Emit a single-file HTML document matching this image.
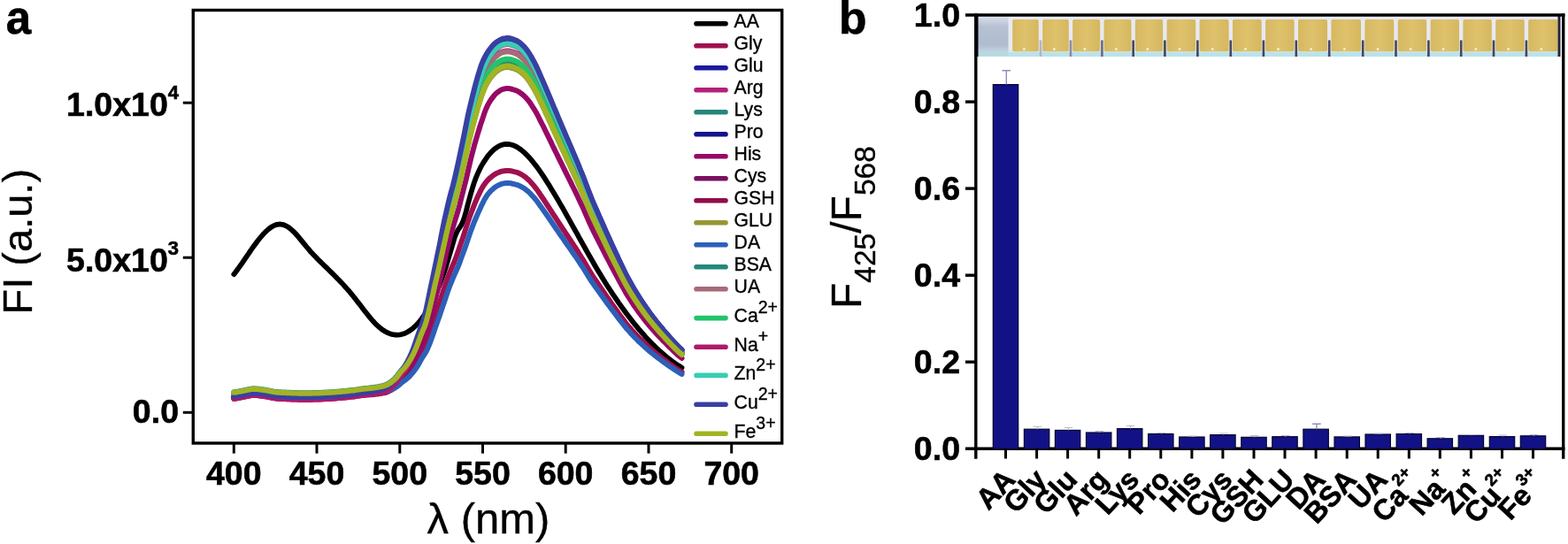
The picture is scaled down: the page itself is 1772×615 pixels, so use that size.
<!DOCTYPE html><html><head><meta charset="utf-8"><title>Figure</title><style>
html,body{margin:0;padding:0;background:#fff;}body{width:1772px;height:615px;overflow:hidden;}
svg{display:block;filter:blur(0.35px);}
.t{font-family:"Liberation Sans",Arial,sans-serif;stroke:#000;stroke-width:0.35px;}
.b{font-family:"Liberation Sans",Arial,sans-serif;font-weight:bold;stroke:#000;stroke-width:0.6px;}
</style></head><body>
<svg width="1772" height="615" viewBox="0 0 1772 615">
<rect width="1772" height="615" fill="#fff"/>
<text class="b" x="6.8" y="37.8" font-size="51">a</text>
<g fill="none" stroke-width="6" stroke-linejoin="round" stroke-linecap="round">
<path d="M264.3 310.1 L266.2 307.7 L268.0 305.2 L269.9 302.6 L271.8 300.0 L273.7 297.3 L275.5 294.6 L277.4 291.8 L279.3 289.1 L281.2 286.4 L283.0 283.6 L284.9 280.9 L286.8 278.3 L288.7 275.7 L290.5 273.2 L292.4 270.8 L294.3 268.5 L296.2 266.3 L298.0 264.2 L299.9 262.3 L301.8 260.5 L303.7 258.9 L305.5 257.5 L307.4 256.2 L309.3 255.2 L311.2 254.4 L313.0 253.9 L314.9 253.6 L316.8 253.5 L318.7 253.8 L320.5 254.2 L322.4 255.0 L324.3 255.9 L326.2 257.1 L328.0 258.5 L329.9 260.1 L331.8 261.9 L333.7 263.8 L335.5 265.8 L337.4 268.0 L339.3 270.3 L341.2 272.6 L343.0 274.9 L344.9 277.2 L346.8 279.5 L348.7 281.7 L350.5 283.9 L352.4 285.9 L354.3 288.0 L356.2 289.9 L358.0 291.9 L359.9 293.8 L361.8 295.6 L363.7 297.5 L365.5 299.3 L367.4 301.1 L369.3 302.9 L371.2 304.8 L373.0 306.6 L374.9 308.4 L376.8 310.3 L378.7 312.2 L380.5 314.1 L382.4 316.0 L384.3 317.9 L386.2 319.9 L388.0 321.9 L389.9 324.0 L391.8 326.1 L393.7 328.2 L395.5 330.4 L397.4 332.7 L399.3 335.0 L401.2 337.3 L403.0 339.7 L404.9 342.1 L406.8 344.6 L408.7 347.0 L410.5 349.5 L412.4 351.9 L414.3 354.3 L416.2 356.6 L418.0 358.9 L419.9 361.1 L421.8 363.2 L423.6 365.2 L425.5 367.1 L427.4 368.8 L429.3 370.5 L431.1 372.0 L433.0 373.3 L434.9 374.5 L436.8 375.6 L438.6 376.4 L440.5 377.2 L442.4 377.8 L444.3 378.2 L446.1 378.5 L448.0 378.6 L449.9 378.6 L451.8 378.4 L453.6 378.1 L455.5 377.5 L457.4 376.9 L459.3 376.0 L461.1 375.0 L463.0 373.8 L464.9 372.5 L466.8 371.0 L468.6 369.3 L470.5 367.5 L472.4 365.5 L474.3 363.3 L476.1 360.9 L478.0 358.3 L479.9 355.6 L481.8 352.7 L483.6 349.6 L485.5 346.3 L487.4 342.8 L489.3 339.1 L491.1 335.1 L493.0 330.9 L494.9 326.5 L496.8 321.8 L498.6 316.9 L500.5 311.7 L502.4 306.2 L504.3 300.5 L506.1 294.5 L508.0 288.2 L509.9 281.7 L511.8 275.2 L513.6 269.0 L515.5 263.9 L517.4 260.2 L519.3 257.5 L521.1 254.7 L523.0 250.9 L524.9 245.4 L526.8 238.7 L528.6 231.4 L530.5 224.4 L532.4 217.6 L534.3 211.4 L536.1 205.7 L538.0 200.6 L539.9 196.1 L541.8 192.0 L543.6 188.4 L545.5 185.1 L547.4 182.1 L549.3 179.3 L551.1 176.7 L553.0 174.4 L554.9 172.3 L556.8 170.4 L558.6 168.7 L560.5 167.3 L562.4 166.0 L564.3 165.0 L566.1 164.2 L568.0 163.6 L569.9 163.2 L571.8 163.0 L573.6 162.9 L575.5 163.1 L577.4 163.5 L579.2 164.0 L581.1 164.7 L583.0 165.6 L584.9 166.6 L586.7 167.8 L588.6 169.2 L590.5 170.7 L592.4 172.3 L594.2 174.1 L596.1 176.0 L598.0 178.0 L599.9 180.1 L601.7 182.3 L603.6 184.7 L605.5 187.1 L607.4 189.6 L609.2 192.2 L611.1 194.9 L613.0 197.7 L614.9 200.5 L616.7 203.4 L618.6 206.3 L620.5 209.3 L622.4 212.4 L624.2 215.4 L626.1 218.6 L628.0 221.7 L629.9 224.9 L631.7 228.1 L633.6 231.4 L635.5 234.6 L637.4 237.9 L639.2 241.2 L641.1 244.6 L643.0 247.9 L644.9 251.3 L646.7 254.6 L648.6 258.0 L650.5 261.4 L652.4 264.7 L654.2 268.1 L656.1 271.5 L658.0 274.9 L659.9 278.2 L661.7 281.5 L663.6 284.9 L665.5 288.2 L667.4 291.5 L669.2 294.7 L671.1 298.0 L673.0 301.2 L674.9 304.4 L676.7 307.5 L678.6 310.6 L680.5 313.7 L682.4 316.7 L684.2 319.7 L686.1 322.7 L688.0 325.6 L689.9 328.5 L691.7 331.4 L693.6 334.2 L695.5 336.9 L697.4 339.7 L699.2 342.4 L701.1 345.0 L703.0 347.7 L704.9 350.3 L706.7 352.8 L708.6 355.3 L710.5 357.8 L712.4 360.2 L714.2 362.6 L716.1 365.0 L718.0 367.3 L719.9 369.6 L721.7 371.8 L723.6 374.0 L725.5 376.2 L727.4 378.3 L729.2 380.4 L731.1 382.4 L733.0 384.4 L734.8 386.4 L736.7 388.3 L738.6 390.2 L740.5 392.0 L742.3 393.8 L744.2 395.5 L746.1 397.3 L748.0 398.9 L749.8 400.6 L751.7 402.1 L753.6 403.7 L755.5 405.2 L757.3 406.7 L759.2 408.1 L761.1 409.5 L763.0 410.8 L764.8 412.1 L766.7 413.3 L768.6 414.5 L770.5 415.7" stroke="#000000" stroke-width="5.8"/>
<path d="M264.3 450.8 L266.2 450.5 L268.0 450.2 L269.9 449.9 L271.8 449.5 L273.7 449.1 L275.5 448.8 L277.4 448.4 L279.3 448.0 L281.2 447.6 L283.0 447.2 L284.9 446.9 L286.8 446.8 L288.7 446.9 L290.5 447.0 L292.4 447.2 L294.3 447.5 L296.2 447.7 L298.0 448.0 L299.9 448.3 L301.8 448.6 L303.7 449.0 L305.5 449.4 L307.4 449.7 L309.3 450.1 L311.2 450.4 L313.0 450.6 L314.9 450.7 L316.8 450.8 L318.7 450.9 L320.5 451.0 L322.4 451.1 L324.3 451.2 L326.2 451.2 L328.0 451.3 L329.9 451.4 L331.8 451.5 L333.7 451.6 L335.5 451.6 L337.4 451.7 L339.3 451.8 L341.2 451.8 L343.0 451.8 L344.9 451.8 L346.8 451.8 L348.7 451.7 L350.5 451.7 L352.4 451.7 L354.3 451.6 L356.2 451.5 L358.0 451.5 L359.9 451.4 L361.8 451.4 L363.7 451.3 L365.5 451.2 L367.4 451.1 L369.3 451.0 L371.2 450.9 L373.0 450.8 L374.9 450.7 L376.8 450.6 L378.7 450.4 L380.5 450.3 L382.4 450.1 L384.3 450.0 L386.2 449.8 L388.0 449.6 L389.9 449.4 L391.8 449.2 L393.7 449.0 L395.5 448.8 L397.4 448.6 L399.3 448.4 L401.2 448.2 L403.0 447.9 L404.9 447.6 L406.8 447.4 L408.7 447.1 L410.5 446.9 L412.4 446.7 L414.3 446.6 L416.2 446.5 L418.0 446.3 L419.9 446.2 L421.8 446.0 L423.6 445.8 L425.5 445.6 L427.4 445.4 L429.3 445.1 L431.1 444.8 L433.0 444.4 L434.9 444.0 L436.8 443.5 L438.6 442.7 L440.5 441.8 L442.4 440.8 L444.3 439.7 L446.1 438.5 L448.0 436.9 L449.9 435.1 L451.8 433.5 L453.6 431.9 L455.5 430.4 L457.4 428.7 L459.3 426.7 L461.1 424.5 L463.0 422.2 L464.9 419.6 L466.8 416.8 L468.6 413.7 L470.5 410.3 L472.4 406.6 L474.3 403.1 L476.1 399.8 L478.0 396.7 L479.9 392.8 L481.8 388.2 L483.6 382.9 L485.5 377.2 L487.4 371.4 L489.3 365.6 L491.1 359.9 L493.0 354.2 L494.9 348.4 L496.8 342.6 L498.6 336.7 L500.5 330.6 L502.4 324.6 L504.3 319.1 L506.1 313.8 L508.0 308.9 L509.9 304.2 L511.8 299.8 L513.6 295.5 L515.5 290.6 L517.4 285.2 L519.3 279.8 L521.1 274.4 L523.0 268.9 L524.9 263.2 L526.8 257.2 L528.6 251.3 L530.5 245.8 L532.4 240.7 L534.3 235.9 L536.1 231.2 L538.0 226.6 L539.9 222.3 L541.8 218.4 L543.6 214.6 L545.5 211.2 L547.4 208.4 L549.3 205.9 L551.1 203.8 L553.0 201.9 L554.9 200.3 L556.8 198.7 L558.6 197.4 L560.5 196.3 L562.4 195.4 L564.3 194.6 L566.1 193.9 L568.0 193.5 L569.9 193.2 L571.8 193.0 L573.6 192.9 L575.5 193.0 L577.4 193.2 L579.2 193.6 L581.1 194.1 L583.0 194.5 L584.9 195.1 L586.7 195.9 L588.6 196.9 L590.5 198.0 L592.4 199.2 L594.2 200.6 L596.1 202.2 L598.0 204.0 L599.9 206.0 L601.7 208.1 L603.6 210.3 L605.5 212.7 L607.4 215.2 L609.2 217.9 L611.1 220.7 L613.0 223.5 L614.9 226.3 L616.7 229.1 L618.6 232.0 L620.5 234.9 L622.4 237.8 L624.2 240.7 L626.1 243.5 L628.0 246.4 L629.9 249.3 L631.7 252.1 L633.6 255.0 L635.5 257.9 L637.4 260.7 L639.2 263.5 L641.1 266.3 L643.0 269.1 L644.9 272.0 L646.7 274.8 L648.6 277.6 L650.5 280.5 L652.4 283.4 L654.2 286.4 L656.1 289.3 L658.0 292.3 L659.9 295.4 L661.7 298.6 L663.6 301.8 L665.5 305.0 L667.4 308.1 L669.2 311.1 L671.1 313.9 L673.0 316.7 L674.9 319.5 L676.7 322.2 L678.6 325.0 L680.5 327.7 L682.4 330.5 L684.2 333.2 L686.1 335.9 L688.0 338.6 L689.9 341.3 L691.7 344.0 L693.6 346.6 L695.5 349.2 L697.4 351.8 L699.2 354.4 L701.1 357.0 L703.0 359.5 L704.9 362.0 L706.7 364.5 L708.6 366.9 L710.5 369.1 L712.4 371.3 L714.2 373.4 L716.1 375.5 L718.0 377.6 L719.9 379.5 L721.7 381.5 L723.6 383.4 L725.5 385.2 L727.4 387.0 L729.2 388.8 L731.1 390.5 L733.0 392.2 L734.8 393.9 L736.7 395.5 L738.6 397.1 L740.5 398.7 L742.3 400.2 L744.2 401.7 L746.1 403.2 L748.0 404.6 L749.8 406.1 L751.7 407.5 L753.6 408.9 L755.5 410.3 L757.3 411.7 L759.2 413.0 L761.1 414.4 L763.0 415.7 L764.8 417.0 L766.7 418.2 L768.6 419.4 L770.5 420.6" stroke="#a0104e"/>
<path d="M264.3 448.8 L266.2 448.5 L268.0 448.2 L269.9 447.9 L271.8 447.5 L273.7 447.1 L275.5 446.8 L277.4 446.4 L279.3 446.0 L281.2 445.6 L283.0 445.2 L284.9 444.9 L286.8 444.8 L288.7 444.9 L290.5 445.0 L292.4 445.2 L294.3 445.5 L296.2 445.7 L298.0 446.0 L299.9 446.3 L301.8 446.6 L303.7 447.0 L305.5 447.4 L307.4 447.7 L309.3 448.1 L311.2 448.4 L313.0 448.6 L314.9 448.7 L316.8 448.8 L318.7 448.9 L320.5 449.0 L322.4 449.1 L324.3 449.2 L326.2 449.2 L328.0 449.3 L329.9 449.4 L331.8 449.5 L333.7 449.6 L335.5 449.6 L337.4 449.7 L339.3 449.8 L341.2 449.8 L343.0 449.8 L344.9 449.8 L346.8 449.8 L348.7 449.7 L350.5 449.7 L352.4 449.7 L354.3 449.6 L356.2 449.5 L358.0 449.5 L359.9 449.4 L361.8 449.4 L363.7 449.3 L365.5 449.2 L367.4 449.1 L369.3 449.0 L371.2 448.9 L373.0 448.8 L374.9 448.7 L376.8 448.6 L378.7 448.4 L380.5 448.3 L382.4 448.1 L384.3 448.0 L386.2 447.8 L388.0 447.6 L389.9 447.4 L391.8 447.2 L393.7 447.0 L395.5 446.8 L397.4 446.6 L399.3 446.4 L401.2 446.2 L403.0 445.9 L404.9 445.6 L406.8 445.3 L408.7 445.0 L410.5 444.7 L412.4 444.5 L414.3 444.3 L416.2 444.1 L418.0 443.9 L419.9 443.7 L421.8 443.4 L423.6 443.1 L425.5 442.8 L427.4 442.5 L429.3 442.0 L431.1 441.6 L433.0 441.1 L434.9 440.5 L436.8 439.7 L438.6 438.7 L440.5 437.4 L442.4 435.9 L444.3 434.2 L446.1 432.4 L448.0 430.1 L449.9 427.3 L451.8 424.5 L453.6 422.1 L455.5 419.7 L457.4 417.3 L459.3 414.5 L461.1 411.4 L463.0 407.9 L464.9 404.0 L466.8 399.9 L468.6 395.4 L470.5 390.3 L472.4 384.7 L474.3 379.1 L476.1 373.7 L478.0 368.9 L479.9 363.6 L481.8 356.9 L483.6 349.1 L485.5 340.5 L487.4 331.5 L489.3 322.3 L491.1 313.3 L493.0 304.5 L494.9 295.5 L496.8 286.3 L498.6 277.1 L500.5 267.6 L502.4 258.1 L504.3 249.0 L506.1 240.5 L508.0 232.5 L509.9 224.9 L511.8 217.7 L513.6 210.9 L515.5 203.6 L517.4 195.4 L519.3 186.8 L521.1 178.2 L523.0 169.6 L524.9 160.7 L526.8 151.4 L528.6 141.8 L530.5 132.8 L532.4 124.4 L534.3 116.5 L536.1 108.9 L538.0 101.5 L539.9 94.4 L541.8 87.9 L543.6 81.7 L545.5 75.9 L547.4 70.7 L549.3 66.5 L551.1 62.8 L553.0 59.6 L554.9 56.8 L556.8 54.3 L558.6 52.1 L560.5 50.2 L562.4 48.7 L564.3 47.3 L566.1 46.2 L568.0 45.4 L569.9 45.0 L571.8 44.6 L573.6 44.5 L575.5 44.6 L577.4 45.0 L579.2 45.6 L581.1 46.3 L583.0 47.0 L584.9 48.0 L586.7 49.2 L588.6 50.7 L590.5 52.4 L592.4 54.3 L594.2 56.3 L596.1 58.8 L598.0 61.6 L599.9 64.7 L601.7 68.0 L603.6 71.3 L605.5 75.0 L607.4 79.0 L609.2 83.1 L611.1 87.4 L613.0 91.7 L614.9 96.0 L616.7 100.3 L618.6 104.8 L620.5 109.2 L622.4 113.7 L624.2 118.2 L626.1 122.6 L628.0 127.0 L629.9 131.5 L631.7 135.9 L633.6 140.3 L635.5 144.7 L637.4 149.1 L639.2 153.5 L641.1 157.8 L643.0 162.1 L644.9 166.5 L646.7 170.8 L648.6 175.2 L650.5 179.7 L652.4 184.2 L654.2 188.7 L656.1 193.3 L658.0 197.9 L659.9 202.6 L661.7 207.5 L663.6 212.5 L665.5 217.4 L667.4 222.2 L669.2 226.8 L671.1 231.2 L673.0 235.5 L674.9 239.8 L676.7 244.0 L678.6 248.3 L680.5 252.5 L682.4 256.7 L684.2 261.0 L686.1 265.2 L688.0 269.3 L689.9 273.5 L691.7 277.6 L693.6 281.6 L695.5 285.6 L697.4 289.6 L699.2 293.7 L701.1 297.6 L703.0 301.6 L704.9 305.5 L706.7 309.2 L708.6 312.9 L710.5 316.4 L712.4 319.8 L714.2 323.0 L716.1 326.2 L718.0 329.4 L719.9 332.4 L721.7 335.4 L723.6 338.4 L725.5 341.2 L727.4 344.0 L729.2 346.7 L731.1 349.4 L733.0 352.0 L734.8 354.6 L736.7 357.1 L738.6 359.5 L740.5 362.0 L742.3 364.3 L744.2 366.6 L746.1 368.9 L748.0 371.2 L749.8 373.4 L751.7 375.6 L753.6 377.8 L755.5 379.9 L757.3 382.0 L759.2 384.1 L761.1 386.2 L763.0 388.2 L764.8 390.2 L766.7 392.1 L768.6 394.0 L770.5 395.8" stroke="#1a1aa0"/>
<path d="M264.3 449.8 L266.2 449.5 L268.0 449.2 L269.9 448.9 L271.8 448.5 L273.7 448.1 L275.5 447.8 L277.4 447.4 L279.3 447.0 L281.2 446.6 L283.0 446.2 L284.9 445.9 L286.8 445.8 L288.7 445.9 L290.5 446.0 L292.4 446.2 L294.3 446.5 L296.2 446.7 L298.0 447.0 L299.9 447.3 L301.8 447.6 L303.7 448.0 L305.5 448.4 L307.4 448.7 L309.3 449.1 L311.2 449.4 L313.0 449.6 L314.9 449.7 L316.8 449.8 L318.7 449.9 L320.5 450.0 L322.4 450.1 L324.3 450.2 L326.2 450.2 L328.0 450.3 L329.9 450.4 L331.8 450.5 L333.7 450.6 L335.5 450.6 L337.4 450.7 L339.3 450.8 L341.2 450.8 L343.0 450.8 L344.9 450.8 L346.8 450.8 L348.7 450.7 L350.5 450.7 L352.4 450.7 L354.3 450.6 L356.2 450.5 L358.0 450.5 L359.9 450.4 L361.8 450.4 L363.7 450.3 L365.5 450.2 L367.4 450.1 L369.3 450.0 L371.2 449.9 L373.0 449.8 L374.9 449.7 L376.8 449.6 L378.7 449.4 L380.5 449.3 L382.4 449.1 L384.3 449.0 L386.2 448.8 L388.0 448.6 L389.9 448.4 L391.8 448.2 L393.7 448.0 L395.5 447.8 L397.4 447.6 L399.3 447.4 L401.2 447.2 L403.0 446.9 L404.9 446.6 L406.8 446.3 L408.7 446.0 L410.5 445.7 L412.4 445.5 L414.3 445.3 L416.2 445.1 L418.0 444.9 L419.9 444.7 L421.8 444.5 L423.6 444.2 L425.5 443.9 L427.4 443.5 L429.3 443.1 L431.1 442.7 L433.0 442.2 L434.9 441.6 L436.8 440.9 L438.6 439.9 L440.5 438.6 L442.4 437.2 L444.3 435.5 L446.1 433.8 L448.0 431.6 L449.9 428.8 L451.8 426.2 L453.6 423.7 L455.5 421.4 L457.4 419.0 L459.3 416.3 L461.1 413.2 L463.0 409.8 L464.9 406.1 L466.8 402.0 L468.6 397.7 L470.5 392.7 L472.4 387.2 L474.3 381.7 L476.1 376.5 L478.0 371.8 L479.9 366.7 L481.8 360.2 L483.6 352.6 L485.5 344.2 L487.4 335.4 L489.3 326.5 L491.1 317.8 L493.0 309.2 L494.9 300.5 L496.8 291.6 L498.6 282.7 L500.5 273.5 L502.4 264.2 L504.3 255.4 L506.1 247.2 L508.0 239.4 L509.9 232.0 L511.8 225.1 L513.6 218.5 L515.5 211.5 L517.4 203.5 L519.3 195.2 L521.1 186.9 L523.0 178.5 L524.9 170.0 L526.8 160.9 L528.6 151.7 L530.5 142.9 L532.4 134.8 L534.3 127.2 L536.1 119.9 L538.0 112.7 L539.9 105.8 L541.8 99.5 L543.6 93.5 L545.5 87.9 L547.4 82.9 L549.3 78.8 L551.1 75.3 L553.0 72.1 L554.9 69.4 L556.8 67.0 L558.6 64.8 L560.5 63.0 L562.4 61.5 L564.3 60.2 L566.1 59.2 L568.0 58.4 L569.9 58.0 L571.8 57.6 L573.6 57.5 L575.5 57.6 L577.4 58.0 L579.2 58.6 L581.1 59.2 L583.0 60.0 L584.9 60.8 L586.7 62.0 L588.6 63.5 L590.5 65.2 L592.4 67.0 L594.2 68.9 L596.1 71.3 L598.0 74.1 L599.9 77.1 L601.7 80.2 L603.6 83.5 L605.5 87.0 L607.4 90.9 L609.2 94.9 L611.1 99.1 L613.0 103.3 L614.9 107.4 L616.7 111.6 L618.6 115.9 L620.5 120.2 L622.4 124.6 L624.2 128.9 L626.1 133.2 L628.0 137.5 L629.9 141.8 L631.7 146.1 L633.6 150.4 L635.5 154.6 L637.4 158.9 L639.2 163.1 L641.1 167.3 L643.0 171.5 L644.9 175.7 L646.7 179.9 L648.6 184.2 L650.5 188.5 L652.4 192.9 L654.2 197.2 L656.1 201.7 L658.0 206.2 L659.9 210.8 L661.7 215.5 L663.6 220.3 L665.5 225.1 L667.4 229.8 L669.2 234.2 L671.1 238.5 L673.0 242.7 L674.9 246.8 L676.7 250.9 L678.6 255.0 L680.5 259.1 L682.4 263.2 L684.2 267.3 L686.1 271.4 L688.0 275.4 L689.9 279.4 L691.7 283.4 L693.6 287.3 L695.5 291.2 L697.4 295.1 L699.2 299.0 L701.1 302.8 L703.0 306.7 L704.9 310.4 L706.7 314.1 L708.6 317.6 L710.5 321.0 L712.4 324.3 L714.2 327.5 L716.1 330.6 L718.0 333.6 L719.9 336.6 L721.7 339.5 L723.6 342.3 L725.5 345.1 L727.4 347.8 L729.2 350.4 L731.1 353.0 L733.0 355.5 L734.8 358.0 L736.7 360.5 L738.6 362.8 L740.5 365.2 L742.3 367.5 L744.2 369.7 L746.1 371.9 L748.0 374.1 L749.8 376.3 L751.7 378.4 L753.6 380.5 L755.5 382.6 L757.3 384.6 L759.2 386.7 L761.1 388.7 L763.0 390.6 L764.8 392.5 L766.7 394.4 L768.6 396.2 L770.5 397.9" stroke="#b4207a"/>
<path d="M264.3 443.3 L266.2 443.0 L268.0 442.7 L269.9 442.4 L271.8 442.0 L273.7 441.6 L275.5 441.3 L277.4 440.9 L279.3 440.5 L281.2 440.1 L283.0 439.7 L284.9 439.4 L286.8 439.3 L288.7 439.4 L290.5 439.5 L292.4 439.7 L294.3 440.0 L296.2 440.2 L298.0 440.5 L299.9 440.8 L301.8 441.1 L303.7 441.5 L305.5 441.9 L307.4 442.2 L309.3 442.6 L311.2 442.9 L313.0 443.1 L314.9 443.2 L316.8 443.3 L318.7 443.4 L320.5 443.5 L322.4 443.6 L324.3 443.7 L326.2 443.7 L328.0 443.8 L329.9 443.9 L331.8 444.0 L333.7 444.1 L335.5 444.1 L337.4 444.2 L339.3 444.3 L341.2 444.3 L343.0 444.3 L344.9 444.3 L346.8 444.3 L348.7 444.2 L350.5 444.2 L352.4 444.2 L354.3 444.1 L356.2 444.0 L358.0 444.0 L359.9 443.9 L361.8 443.9 L363.7 443.8 L365.5 443.7 L367.4 443.6 L369.3 443.5 L371.2 443.4 L373.0 443.3 L374.9 443.2 L376.8 443.1 L378.7 442.9 L380.5 442.8 L382.4 442.6 L384.3 442.5 L386.2 442.3 L388.0 442.1 L389.9 441.9 L391.8 441.7 L393.7 441.5 L395.5 441.3 L397.4 441.1 L399.3 440.9 L401.2 440.7 L403.0 440.4 L404.9 440.1 L406.8 439.8 L408.7 439.5 L410.5 439.3 L412.4 439.0 L414.3 438.9 L416.2 438.7 L418.0 438.5 L419.9 438.3 L421.8 438.1 L423.6 437.8 L425.5 437.5 L427.4 437.2 L429.3 436.8 L431.1 436.4 L433.0 435.9 L434.9 435.4 L436.8 434.7 L438.6 433.7 L440.5 432.5 L442.4 431.1 L444.3 429.6 L446.1 427.9 L448.0 425.8 L449.9 423.3 L451.8 420.7 L453.6 418.6 L455.5 416.6 L457.4 414.6 L459.3 412.2 L461.1 409.5 L463.0 406.4 L464.9 403.0 L466.8 399.4 L468.6 395.4 L470.5 390.8 L472.4 385.8 L474.3 380.7 L476.1 375.9 L478.0 371.6 L479.9 366.9 L481.8 360.8 L483.6 353.7 L485.5 345.9 L487.4 337.6 L489.3 329.2 L491.1 321.0 L493.0 312.9 L494.9 304.6 L496.8 296.2 L498.6 287.7 L500.5 279.0 L502.4 270.1 L504.3 261.8 L506.1 254.0 L508.0 246.6 L509.9 239.4 L511.8 232.8 L513.6 226.4 L515.5 219.6 L517.4 211.9 L519.3 203.9 L521.1 195.9 L523.0 187.8 L524.9 179.5 L526.8 170.8 L528.6 161.9 L530.5 153.4 L532.4 145.6 L534.3 138.3 L536.1 131.2 L538.0 124.3 L539.9 117.7 L541.8 111.5 L543.6 105.7 L545.5 100.3 L547.4 95.5 L549.3 91.6 L551.1 88.2 L553.0 85.2 L554.9 82.5 L556.8 80.2 L558.6 78.1 L560.5 76.3 L562.4 74.9 L564.3 73.6 L566.1 72.6 L568.0 71.9 L569.9 71.5 L571.8 71.1 L573.6 71.0 L575.5 71.1 L577.4 71.5 L579.2 72.0 L581.1 72.7 L583.0 73.4 L584.9 74.2 L586.7 75.4 L588.6 76.8 L590.5 78.4 L592.4 80.2 L594.2 82.1 L596.1 84.4 L598.0 87.0 L599.9 89.9 L601.7 93.0 L603.6 96.1 L605.5 99.6 L607.4 103.3 L609.2 107.2 L611.1 111.2 L613.0 115.3 L614.9 119.3 L616.7 123.3 L618.6 127.5 L620.5 131.7 L622.4 135.9 L624.2 140.1 L626.1 144.2 L628.0 148.4 L629.9 152.5 L631.7 156.7 L633.6 160.8 L635.5 164.9 L637.4 169.0 L639.2 173.1 L641.1 177.2 L643.0 181.2 L644.9 185.3 L646.7 189.4 L648.6 193.5 L650.5 197.7 L652.4 201.9 L654.2 206.1 L656.1 210.4 L658.0 214.8 L659.9 219.2 L661.7 223.8 L663.6 228.4 L665.5 233.1 L667.4 237.6 L669.2 241.9 L671.1 246.0 L673.0 250.0 L674.9 254.0 L676.7 258.0 L678.6 262.0 L680.5 265.9 L682.4 269.9 L684.2 273.9 L686.1 277.8 L688.0 281.7 L689.9 285.6 L691.7 289.4 L693.6 293.2 L695.5 297.0 L697.4 300.7 L699.2 304.5 L701.1 308.2 L703.0 311.9 L704.9 315.6 L706.7 319.1 L708.6 322.5 L710.5 325.8 L712.4 329.0 L714.2 332.0 L716.1 335.0 L718.0 338.0 L719.9 340.9 L721.7 343.7 L723.6 346.4 L725.5 349.1 L727.4 351.7 L729.2 354.3 L731.1 356.8 L733.0 359.2 L734.8 361.6 L736.7 364.0 L738.6 366.3 L740.5 368.5 L742.3 370.7 L744.2 372.9 L746.1 375.1 L748.0 377.2 L749.8 379.2 L751.7 381.3 L753.6 383.3 L755.5 385.3 L757.3 387.3 L759.2 389.3 L761.1 391.2 L763.0 393.1 L764.8 395.0 L766.7 396.8 L768.6 398.5 L770.5 400.2" stroke="#25877a"/>
<path d="M264.3 448.8 L266.2 448.5 L268.0 448.2 L269.9 447.9 L271.8 447.5 L273.7 447.1 L275.5 446.8 L277.4 446.4 L279.3 446.0 L281.2 445.6 L283.0 445.2 L284.9 444.9 L286.8 444.8 L288.7 444.9 L290.5 445.0 L292.4 445.2 L294.3 445.5 L296.2 445.7 L298.0 446.0 L299.9 446.3 L301.8 446.6 L303.7 447.0 L305.5 447.4 L307.4 447.7 L309.3 448.1 L311.2 448.4 L313.0 448.6 L314.9 448.7 L316.8 448.8 L318.7 448.9 L320.5 449.0 L322.4 449.1 L324.3 449.2 L326.2 449.2 L328.0 449.3 L329.9 449.4 L331.8 449.5 L333.7 449.6 L335.5 449.6 L337.4 449.7 L339.3 449.8 L341.2 449.8 L343.0 449.8 L344.9 449.8 L346.8 449.8 L348.7 449.7 L350.5 449.7 L352.4 449.7 L354.3 449.6 L356.2 449.5 L358.0 449.5 L359.9 449.4 L361.8 449.4 L363.7 449.3 L365.5 449.2 L367.4 449.1 L369.3 449.0 L371.2 448.9 L373.0 448.8 L374.9 448.7 L376.8 448.6 L378.7 448.4 L380.5 448.3 L382.4 448.1 L384.3 448.0 L386.2 447.8 L388.0 447.6 L389.9 447.4 L391.8 447.2 L393.7 447.0 L395.5 446.8 L397.4 446.6 L399.3 446.4 L401.2 446.2 L403.0 445.9 L404.9 445.6 L406.8 445.3 L408.7 445.0 L410.5 444.7 L412.4 444.5 L414.3 444.3 L416.2 444.1 L418.0 443.9 L419.9 443.7 L421.8 443.4 L423.6 443.2 L425.5 442.8 L427.4 442.5 L429.3 442.1 L431.1 441.6 L433.0 441.1 L434.9 440.5 L436.8 439.8 L438.6 438.7 L440.5 437.4 L442.4 435.9 L444.3 434.2 L446.1 432.4 L448.0 430.1 L449.9 427.3 L451.8 424.6 L453.6 422.1 L455.5 419.8 L457.4 417.4 L459.3 414.6 L461.1 411.5 L463.0 408.0 L464.9 404.1 L466.8 400.0 L468.6 395.6 L470.5 390.4 L472.4 384.9 L474.3 379.2 L476.1 373.9 L478.0 369.1 L479.9 363.9 L481.8 357.2 L483.6 349.4 L485.5 340.8 L487.4 331.8 L489.3 322.6 L491.1 313.7 L493.0 304.8 L494.9 295.8 L496.8 286.7 L498.6 277.5 L500.5 268.1 L502.4 258.5 L504.3 249.4 L506.1 241.0 L508.0 233.0 L509.9 225.4 L511.8 218.3 L513.6 211.5 L515.5 204.2 L517.4 196.0 L519.3 187.4 L521.1 178.9 L523.0 170.3 L524.9 161.4 L526.8 152.1 L528.6 142.6 L530.5 133.5 L532.4 125.2 L534.3 117.3 L536.1 109.8 L538.0 102.4 L539.9 95.3 L541.8 88.7 L543.6 82.6 L545.5 76.8 L547.4 71.7 L549.3 67.5 L551.1 63.8 L553.0 60.6 L554.9 57.8 L556.8 55.3 L558.6 53.0 L560.5 51.2 L562.4 49.7 L564.3 48.3 L566.1 47.2 L568.0 46.4 L569.9 46.0 L571.8 45.6 L573.6 45.5 L575.5 45.6 L577.4 46.0 L579.2 46.6 L581.1 47.3 L583.0 48.0 L584.9 48.9 L586.7 50.2 L588.6 51.7 L590.5 53.4 L592.4 55.2 L594.2 57.3 L596.1 59.7 L598.0 62.6 L599.9 65.6 L601.7 68.9 L603.6 72.3 L605.5 75.9 L607.4 79.9 L609.2 84.0 L611.1 88.3 L613.0 92.6 L614.9 96.9 L616.7 101.2 L618.6 105.6 L620.5 110.1 L622.4 114.6 L624.2 119.0 L626.1 123.4 L628.0 127.8 L629.9 132.3 L631.7 136.7 L633.6 141.1 L635.5 145.5 L637.4 149.9 L639.2 154.2 L641.1 158.5 L643.0 162.9 L644.9 167.2 L646.7 171.5 L648.6 175.9 L650.5 180.4 L652.4 184.8 L654.2 189.4 L656.1 193.9 L658.0 198.5 L659.9 203.3 L661.7 208.1 L663.6 213.1 L665.5 218.0 L667.4 222.8 L669.2 227.4 L671.1 231.8 L673.0 236.1 L674.9 240.3 L676.7 244.5 L678.6 248.8 L680.5 253.0 L682.4 257.2 L684.2 261.5 L686.1 265.6 L688.0 269.8 L689.9 273.9 L691.7 278.0 L693.6 282.0 L695.5 286.0 L697.4 290.1 L699.2 294.1 L701.1 298.0 L703.0 302.0 L704.9 305.8 L706.7 309.6 L708.6 313.2 L710.5 316.7 L712.4 320.1 L714.2 323.4 L716.1 326.6 L718.0 329.7 L719.9 332.8 L721.7 335.7 L723.6 338.7 L725.5 341.5 L727.4 344.3 L729.2 347.0 L731.1 349.7 L733.0 352.3 L734.8 354.9 L736.7 357.4 L738.6 359.8 L740.5 362.2 L742.3 364.6 L744.2 366.9 L746.1 369.2 L748.0 371.4 L749.8 373.6 L751.7 375.8 L753.6 378.0 L755.5 380.1 L757.3 382.2 L759.2 384.3 L761.1 386.4 L763.0 388.4 L764.8 390.4 L766.7 392.3 L768.6 394.1 L770.5 395.9" stroke="#14148a"/>
<path d="M264.3 449.3 L266.2 449.0 L268.0 448.7 L269.9 448.4 L271.8 448.0 L273.7 447.6 L275.5 447.3 L277.4 446.9 L279.3 446.5 L281.2 446.1 L283.0 445.7 L284.9 445.4 L286.8 445.3 L288.7 445.4 L290.5 445.5 L292.4 445.7 L294.3 446.0 L296.2 446.2 L298.0 446.5 L299.9 446.8 L301.8 447.1 L303.7 447.5 L305.5 447.9 L307.4 448.2 L309.3 448.6 L311.2 448.9 L313.0 449.1 L314.9 449.2 L316.8 449.3 L318.7 449.4 L320.5 449.5 L322.4 449.6 L324.3 449.7 L326.2 449.7 L328.0 449.8 L329.9 449.9 L331.8 450.0 L333.7 450.1 L335.5 450.1 L337.4 450.2 L339.3 450.3 L341.2 450.3 L343.0 450.3 L344.9 450.3 L346.8 450.3 L348.7 450.2 L350.5 450.2 L352.4 450.2 L354.3 450.1 L356.2 450.0 L358.0 450.0 L359.9 449.9 L361.8 449.9 L363.7 449.8 L365.5 449.7 L367.4 449.6 L369.3 449.5 L371.2 449.4 L373.0 449.3 L374.9 449.2 L376.8 449.1 L378.7 448.9 L380.5 448.8 L382.4 448.6 L384.3 448.5 L386.2 448.3 L388.0 448.1 L389.9 447.9 L391.8 447.7 L393.7 447.5 L395.5 447.3 L397.4 447.1 L399.3 446.9 L401.2 446.7 L403.0 446.5 L404.9 446.2 L406.8 446.0 L408.7 445.7 L410.5 445.5 L412.4 445.3 L414.3 445.1 L416.2 445.0 L418.0 444.8 L419.9 444.6 L421.8 444.5 L423.6 444.3 L425.5 444.0 L427.4 443.8 L429.3 443.4 L431.1 443.1 L433.0 442.7 L434.9 442.3 L436.8 441.8 L438.6 441.3 L440.5 440.5 L442.4 439.4 L444.3 438.2 L446.1 436.8 L448.0 435.3 L449.9 433.5 L451.8 431.1 L453.6 428.6 L455.5 426.4 L457.4 424.4 L459.3 422.3 L461.1 420.0 L463.0 417.4 L464.9 414.4 L466.8 411.2 L468.6 407.7 L470.5 403.9 L472.4 399.6 L474.3 394.9 L476.1 390.0 L478.0 385.3 L479.9 380.9 L481.8 376.7 L483.6 371.2 L485.5 364.7 L487.4 357.5 L489.3 349.7 L491.1 341.8 L493.0 334.0 L494.9 326.4 L496.8 318.6 L498.6 310.7 L500.5 302.8 L502.4 294.7 L504.3 286.4 L506.1 278.4 L508.0 271.0 L509.9 264.0 L511.8 257.3 L513.6 251.0 L515.5 245.1 L517.4 239.0 L519.3 232.2 L521.1 224.8 L523.0 217.4 L524.9 210.0 L526.8 202.5 L528.6 194.6 L530.5 186.4 L532.4 178.4 L534.3 171.1 L536.1 164.2 L538.0 157.6 L539.9 151.2 L541.8 145.0 L543.6 139.2 L545.5 133.8 L547.4 127.9 L549.3 123.0 L551.1 119.0 L553.0 115.6 L554.9 112.6 L556.8 110.1 L558.6 107.8 L560.5 105.8 L562.4 104.2 L564.3 102.9 L566.1 101.8 L568.0 100.9 L569.9 100.5 L571.8 100.1 L573.6 100.0 L575.5 100.1 L577.4 100.5 L579.2 101.0 L581.1 101.6 L583.0 102.2 L584.9 103.0 L586.7 104.1 L588.6 105.4 L590.5 106.9 L592.4 108.5 L594.2 110.3 L596.1 112.4 L598.0 114.8 L599.9 117.5 L601.7 120.4 L603.6 123.3 L605.5 126.5 L607.4 129.9 L609.2 133.5 L611.1 137.3 L613.0 141.0 L614.9 144.7 L616.7 148.5 L618.6 152.3 L620.5 156.2 L622.4 160.1 L624.2 164.0 L626.1 167.8 L628.0 171.7 L629.9 175.5 L631.7 179.4 L633.6 183.2 L635.5 187.0 L637.4 190.9 L639.2 194.6 L641.1 198.4 L643.0 202.2 L644.9 205.9 L646.7 209.7 L648.6 213.5 L650.5 217.4 L652.4 221.3 L654.2 225.2 L656.1 229.2 L658.0 233.2 L659.9 237.3 L661.7 241.6 L663.6 245.9 L665.5 250.2 L667.4 254.4 L669.2 258.3 L671.1 262.2 L673.0 265.9 L674.9 269.6 L676.7 273.3 L678.6 277.0 L680.5 280.6 L682.4 284.3 L684.2 288.0 L686.1 291.6 L688.0 295.2 L689.9 298.8 L691.7 302.4 L693.6 305.9 L695.5 309.4 L697.4 312.9 L699.2 316.4 L701.1 319.8 L703.0 323.3 L704.9 326.6 L706.7 329.9 L708.6 333.1 L710.5 336.1 L712.4 339.0 L714.2 341.9 L716.1 344.7 L718.0 347.4 L719.9 350.1 L721.7 352.7 L723.6 355.2 L725.5 357.7 L727.4 360.1 L729.2 362.5 L731.1 364.8 L733.0 367.1 L734.8 369.3 L736.7 371.5 L738.6 373.6 L740.5 375.7 L742.3 377.7 L744.2 379.8 L746.1 381.7 L748.0 383.7 L749.8 385.6 L751.7 387.5 L753.6 389.4 L755.5 391.3 L757.3 393.1 L759.2 394.9 L761.1 396.7 L763.0 398.5 L764.8 400.2 L766.7 401.9 L768.6 403.5 L770.5 405.0" stroke="#980866"/>
<path d="M264.3 449.8 L266.2 449.5 L268.0 449.2 L269.9 448.9 L271.8 448.5 L273.7 448.1 L275.5 447.8 L277.4 447.4 L279.3 447.0 L281.2 446.6 L283.0 446.2 L284.9 445.9 L286.8 445.8 L288.7 445.9 L290.5 446.0 L292.4 446.2 L294.3 446.5 L296.2 446.7 L298.0 447.0 L299.9 447.3 L301.8 447.6 L303.7 448.0 L305.5 448.4 L307.4 448.7 L309.3 449.1 L311.2 449.4 L313.0 449.6 L314.9 449.7 L316.8 449.8 L318.7 449.9 L320.5 450.0 L322.4 450.1 L324.3 450.2 L326.2 450.2 L328.0 450.3 L329.9 450.4 L331.8 450.5 L333.7 450.6 L335.5 450.6 L337.4 450.7 L339.3 450.8 L341.2 450.8 L343.0 450.8 L344.9 450.8 L346.8 450.8 L348.7 450.7 L350.5 450.7 L352.4 450.7 L354.3 450.6 L356.2 450.5 L358.0 450.5 L359.9 450.4 L361.8 450.4 L363.7 450.3 L365.5 450.2 L367.4 450.1 L369.3 450.0 L371.2 449.9 L373.0 449.8 L374.9 449.7 L376.8 449.6 L378.7 449.4 L380.5 449.3 L382.4 449.1 L384.3 449.0 L386.2 448.8 L388.0 448.6 L389.9 448.4 L391.8 448.2 L393.7 448.0 L395.5 447.8 L397.4 447.6 L399.3 447.4 L401.2 447.2 L403.0 446.9 L404.9 446.6 L406.8 446.3 L408.7 446.0 L410.5 445.8 L412.4 445.5 L414.3 445.3 L416.2 445.2 L418.0 445.0 L419.9 444.8 L421.8 444.5 L423.6 444.3 L425.5 444.0 L427.4 443.6 L429.3 443.2 L431.1 442.8 L433.0 442.3 L434.9 441.8 L436.8 441.1 L438.6 440.1 L440.5 438.8 L442.4 437.4 L444.3 435.8 L446.1 434.1 L448.0 431.9 L449.9 429.3 L451.8 426.7 L453.6 424.3 L455.5 422.1 L457.4 419.8 L459.3 417.1 L461.1 414.1 L463.0 410.8 L464.9 407.1 L466.8 403.2 L468.6 398.9 L470.5 394.1 L472.4 388.8 L474.3 383.4 L476.1 378.3 L478.0 373.7 L479.9 368.8 L481.8 362.4 L483.6 355.0 L485.5 346.9 L487.4 338.3 L489.3 329.6 L491.1 321.1 L493.0 312.8 L494.9 304.2 L496.8 295.6 L498.6 286.9 L500.5 277.9 L502.4 268.9 L504.3 260.3 L506.1 252.3 L508.0 244.7 L509.9 237.5 L511.8 230.8 L513.6 224.3 L515.5 217.5 L517.4 209.7 L519.3 201.6 L521.1 193.6 L523.0 185.4 L524.9 177.1 L526.8 168.2 L528.6 159.2 L530.5 150.7 L532.4 142.8 L534.3 135.4 L536.1 128.3 L538.0 121.3 L539.9 114.6 L541.8 108.4 L543.6 102.6 L545.5 97.1 L547.4 92.3 L549.3 88.3 L551.1 84.8 L553.0 81.8 L554.9 79.1 L556.8 76.8 L558.6 74.6 L560.5 72.9 L562.4 71.4 L564.3 70.2 L566.1 69.1 L568.0 68.4 L569.9 68.0 L571.8 67.6 L573.6 67.5 L575.5 67.6 L577.4 68.0 L579.2 68.5 L581.1 69.2 L583.0 69.9 L584.9 70.8 L586.7 71.9 L588.6 73.4 L590.5 75.0 L592.4 76.7 L594.2 78.7 L596.1 81.0 L598.0 83.7 L599.9 86.6 L601.7 89.7 L603.6 92.9 L605.5 96.3 L607.4 100.1 L609.2 104.0 L611.1 108.1 L613.0 112.2 L614.9 116.2 L616.7 120.3 L618.6 124.5 L620.5 128.7 L622.4 132.9 L624.2 137.2 L626.1 141.4 L628.0 145.5 L629.9 149.7 L631.7 153.9 L633.6 158.1 L635.5 162.3 L637.4 166.4 L639.2 170.5 L641.1 174.6 L643.0 178.7 L644.9 182.8 L646.7 186.9 L648.6 191.1 L650.5 195.3 L652.4 199.6 L654.2 203.8 L656.1 208.2 L658.0 212.5 L659.9 217.0 L661.7 221.6 L663.6 226.3 L665.5 231.0 L667.4 235.6 L669.2 239.9 L671.1 244.1 L673.0 248.1 L674.9 252.1 L676.7 256.1 L678.6 260.2 L680.5 264.2 L682.4 268.2 L684.2 272.2 L686.1 276.1 L688.0 280.1 L689.9 284.0 L691.7 287.8 L693.6 291.7 L695.5 295.5 L697.4 299.3 L699.2 303.1 L701.1 306.8 L703.0 310.6 L704.9 314.2 L706.7 317.8 L708.6 321.2 L710.5 324.6 L712.4 327.7 L714.2 330.8 L716.1 333.9 L718.0 336.8 L719.9 339.7 L721.7 342.6 L723.6 345.3 L725.5 348.0 L727.4 350.7 L729.2 353.3 L731.1 355.8 L733.0 358.3 L734.8 360.7 L736.7 363.0 L738.6 365.4 L740.5 367.6 L742.3 369.9 L744.2 372.1 L746.1 374.2 L748.0 376.4 L749.8 378.5 L751.7 380.5 L753.6 382.6 L755.5 384.6 L757.3 386.6 L759.2 388.6 L761.1 390.6 L763.0 392.5 L764.8 394.4 L766.7 396.2 L768.6 397.9 L770.5 399.6" stroke="#781060"/>
<path d="M264.3 450.3 L266.2 450.0 L268.0 449.7 L269.9 449.4 L271.8 449.0 L273.7 448.6 L275.5 448.3 L277.4 447.9 L279.3 447.5 L281.2 447.1 L283.0 446.7 L284.9 446.4 L286.8 446.3 L288.7 446.4 L290.5 446.5 L292.4 446.7 L294.3 447.0 L296.2 447.2 L298.0 447.5 L299.9 447.8 L301.8 448.1 L303.7 448.5 L305.5 448.9 L307.4 449.2 L309.3 449.6 L311.2 449.9 L313.0 450.1 L314.9 450.2 L316.8 450.3 L318.7 450.4 L320.5 450.5 L322.4 450.6 L324.3 450.7 L326.2 450.7 L328.0 450.8 L329.9 450.9 L331.8 451.0 L333.7 451.1 L335.5 451.1 L337.4 451.2 L339.3 451.3 L341.2 451.3 L343.0 451.3 L344.9 451.3 L346.8 451.3 L348.7 451.2 L350.5 451.2 L352.4 451.2 L354.3 451.1 L356.2 451.0 L358.0 451.0 L359.9 450.9 L361.8 450.9 L363.7 450.8 L365.5 450.7 L367.4 450.6 L369.3 450.5 L371.2 450.4 L373.0 450.3 L374.9 450.2 L376.8 450.1 L378.7 449.9 L380.5 449.8 L382.4 449.6 L384.3 449.5 L386.2 449.3 L388.0 449.1 L389.9 448.9 L391.8 448.7 L393.7 448.5 L395.5 448.3 L397.4 448.1 L399.3 447.9 L401.2 447.7 L403.0 447.4 L404.9 447.1 L406.8 446.8 L408.7 446.5 L410.5 446.3 L412.4 446.0 L414.3 445.8 L416.2 445.7 L418.0 445.5 L419.9 445.3 L421.8 445.1 L423.6 444.8 L425.5 444.5 L427.4 444.1 L429.3 443.8 L431.1 443.3 L433.0 442.8 L434.9 442.3 L436.8 441.6 L438.6 440.6 L440.5 439.4 L442.4 438.0 L444.3 436.4 L446.1 434.8 L448.0 432.6 L449.9 430.0 L451.8 427.5 L453.6 425.1 L455.5 422.9 L457.4 420.6 L459.3 417.9 L461.1 415.0 L463.0 411.6 L464.9 408.0 L466.8 404.1 L468.6 399.9 L470.5 395.1 L472.4 389.9 L474.3 384.6 L476.1 379.5 L478.0 375.0 L479.9 370.1 L481.8 363.8 L483.6 356.5 L485.5 348.4 L487.4 340.0 L489.3 331.4 L491.1 323.0 L493.0 314.8 L494.9 306.4 L496.8 297.8 L498.6 289.2 L500.5 280.4 L502.4 271.5 L504.3 263.0 L506.1 255.1 L508.0 247.6 L509.9 240.5 L511.8 233.9 L513.6 227.6 L515.5 220.8 L517.4 213.2 L519.3 205.2 L521.1 197.2 L523.0 189.2 L524.9 181.0 L526.8 172.3 L528.6 163.4 L530.5 155.0 L532.4 147.2 L534.3 139.9 L536.1 132.9 L538.0 126.0 L539.9 119.4 L541.8 113.3 L543.6 107.6 L545.5 102.2 L547.4 97.4 L549.3 93.5 L551.1 90.1 L553.0 87.1 L554.9 84.5 L556.8 82.1 L558.6 80.0 L560.5 78.3 L562.4 76.9 L564.3 75.6 L566.1 74.6 L568.0 73.9 L569.9 73.5 L571.8 73.1 L573.6 73.0 L575.5 73.1 L577.4 73.5 L579.2 74.0 L581.1 74.7 L583.0 75.4 L584.9 76.2 L586.7 77.4 L588.6 78.8 L590.5 80.4 L592.4 82.1 L594.2 84.0 L596.1 86.3 L598.0 88.9 L599.9 91.8 L601.7 94.9 L603.6 98.0 L605.5 101.4 L607.4 105.1 L609.2 109.0 L611.1 113.0 L613.0 117.0 L614.9 121.0 L616.7 125.1 L618.6 129.2 L620.5 133.4 L622.4 137.5 L624.2 141.7 L626.1 145.8 L628.0 150.0 L629.9 154.1 L631.7 158.2 L633.6 162.3 L635.5 166.5 L637.4 170.6 L639.2 174.6 L641.1 178.7 L643.0 182.7 L644.9 186.7 L646.7 190.8 L648.6 194.9 L650.5 199.1 L652.4 203.2 L654.2 207.4 L656.1 211.7 L658.0 216.0 L659.9 220.5 L661.7 225.0 L663.6 229.7 L665.5 234.3 L667.4 238.7 L669.2 243.0 L671.1 247.1 L673.0 251.1 L674.9 255.1 L676.7 259.0 L678.6 263.0 L680.5 267.0 L682.4 270.9 L684.2 274.8 L686.1 278.8 L688.0 282.6 L689.9 286.5 L691.7 290.3 L693.6 294.1 L695.5 297.8 L697.4 301.6 L699.2 305.3 L701.1 309.0 L703.0 312.7 L704.9 316.3 L706.7 319.8 L708.6 323.2 L710.5 326.5 L712.4 329.7 L714.2 332.7 L716.1 335.7 L718.0 338.6 L719.9 341.5 L721.7 344.3 L723.6 347.0 L725.5 349.7 L727.4 352.3 L729.2 354.8 L731.1 357.3 L733.0 359.7 L734.8 362.1 L736.7 364.5 L738.6 366.8 L740.5 369.0 L742.3 371.2 L744.2 373.4 L746.1 375.5 L748.0 377.6 L749.8 379.7 L751.7 381.7 L753.6 383.7 L755.5 385.7 L757.3 387.7 L759.2 389.7 L761.1 391.6 L763.0 393.5 L764.8 395.3 L766.7 397.1 L768.6 398.9 L770.5 400.5" stroke="#900e4a"/>
<path d="M264.3 444.3 L266.2 444.0 L268.0 443.7 L269.9 443.4 L271.8 443.0 L273.7 442.6 L275.5 442.3 L277.4 441.9 L279.3 441.5 L281.2 441.1 L283.0 440.7 L284.9 440.4 L286.8 440.3 L288.7 440.4 L290.5 440.5 L292.4 440.7 L294.3 441.0 L296.2 441.2 L298.0 441.5 L299.9 441.8 L301.8 442.1 L303.7 442.5 L305.5 442.9 L307.4 443.2 L309.3 443.6 L311.2 443.9 L313.0 444.1 L314.9 444.2 L316.8 444.3 L318.7 444.4 L320.5 444.5 L322.4 444.6 L324.3 444.7 L326.2 444.7 L328.0 444.8 L329.9 444.9 L331.8 445.0 L333.7 445.1 L335.5 445.1 L337.4 445.2 L339.3 445.3 L341.2 445.3 L343.0 445.3 L344.9 445.3 L346.8 445.3 L348.7 445.2 L350.5 445.2 L352.4 445.2 L354.3 445.1 L356.2 445.0 L358.0 445.0 L359.9 444.9 L361.8 444.9 L363.7 444.8 L365.5 444.7 L367.4 444.6 L369.3 444.5 L371.2 444.4 L373.0 444.3 L374.9 444.2 L376.8 444.1 L378.7 443.9 L380.5 443.8 L382.4 443.6 L384.3 443.5 L386.2 443.3 L388.0 443.1 L389.9 442.9 L391.8 442.7 L393.7 442.5 L395.5 442.3 L397.4 442.1 L399.3 441.9 L401.2 441.7 L403.0 441.4 L404.9 441.1 L406.8 440.8 L408.7 440.5 L410.5 440.3 L412.4 440.1 L414.3 439.9 L416.2 439.7 L418.0 439.5 L419.9 439.3 L421.8 439.1 L423.6 438.8 L425.5 438.5 L427.4 438.2 L429.3 437.8 L431.1 437.4 L433.0 436.9 L434.9 436.4 L436.8 435.7 L438.6 434.8 L440.5 433.6 L442.4 432.2 L444.3 430.7 L446.1 429.1 L448.0 427.0 L449.9 424.4 L451.8 421.9 L453.6 419.8 L455.5 417.8 L457.4 415.8 L459.3 413.4 L461.1 410.6 L463.0 407.6 L464.9 404.2 L466.8 400.6 L468.6 396.6 L470.5 392.1 L472.4 387.1 L474.3 382.1 L476.1 377.3 L478.0 373.0 L479.9 368.3 L481.8 362.3 L483.6 355.2 L485.5 347.5 L487.4 339.3 L489.3 331.0 L491.1 322.8 L493.0 314.8 L494.9 306.6 L496.8 298.3 L498.6 289.9 L500.5 281.3 L502.4 272.5 L504.3 264.2 L506.1 256.6 L508.0 249.2 L509.9 242.2 L511.8 235.6 L513.6 229.3 L515.5 222.6 L517.4 215.0 L519.3 207.1 L521.1 199.2 L523.0 191.3 L524.9 183.1 L526.8 174.5 L528.6 165.7 L530.5 157.3 L532.4 149.7 L534.3 142.4 L536.1 135.4 L538.0 128.6 L539.9 122.0 L541.8 116.0 L543.6 110.3 L545.5 105.0 L547.4 100.2 L549.3 96.3 L551.1 92.9 L553.0 90.0 L554.9 87.4 L556.8 85.1 L558.6 83.0 L560.5 81.2 L562.4 79.9 L564.3 78.6 L566.1 77.6 L568.0 76.9 L569.9 76.4 L571.8 76.1 L573.6 76.0 L575.5 76.1 L577.4 76.5 L579.2 77.0 L581.1 77.7 L583.0 78.3 L584.9 79.2 L586.7 80.3 L588.6 81.7 L590.5 83.3 L592.4 85.0 L594.2 86.9 L596.1 89.2 L598.0 91.8 L599.9 94.7 L601.7 97.7 L603.6 100.8 L605.5 104.2 L607.4 107.9 L609.2 111.7 L611.1 115.7 L613.0 119.7 L614.9 123.6 L616.7 127.7 L618.6 131.8 L620.5 135.9 L622.4 140.0 L624.2 144.2 L626.1 148.3 L628.0 152.4 L629.9 156.5 L631.7 160.6 L633.6 164.7 L635.5 168.7 L637.4 172.8 L639.2 176.8 L641.1 180.9 L643.0 184.8 L644.9 188.9 L646.7 192.9 L648.6 197.0 L650.5 201.1 L652.4 205.2 L654.2 209.4 L656.1 213.7 L658.0 217.9 L659.9 222.3 L661.7 226.9 L663.6 231.5 L665.5 236.0 L667.4 240.5 L669.2 244.7 L671.1 248.8 L673.0 252.8 L674.9 256.7 L676.7 260.6 L678.6 264.5 L680.5 268.5 L682.4 272.4 L684.2 276.3 L686.1 280.2 L688.0 284.0 L689.9 287.9 L691.7 291.6 L693.6 295.4 L695.5 299.1 L697.4 302.8 L699.2 306.5 L701.1 310.2 L703.0 313.9 L704.9 317.5 L706.7 321.0 L708.6 324.3 L710.5 327.6 L712.4 330.7 L714.2 333.7 L716.1 336.7 L718.0 339.6 L719.9 342.4 L721.7 345.2 L723.6 347.9 L725.5 350.6 L727.4 353.1 L729.2 355.7 L731.1 358.1 L733.0 360.6 L734.8 362.9 L736.7 365.2 L738.6 367.5 L740.5 369.8 L742.3 371.9 L744.2 374.1 L746.1 376.2 L748.0 378.3 L749.8 380.3 L751.7 382.4 L753.6 384.4 L755.5 386.4 L757.3 388.3 L759.2 390.3 L761.1 392.2 L763.0 394.1 L764.8 395.9 L766.7 397.7 L768.6 399.4 L770.5 401.0" stroke="#969634"/>
<path d="M264.3 448.3 L266.2 448.0 L268.0 447.7 L269.9 447.4 L271.8 447.0 L273.7 446.6 L275.5 446.3 L277.4 445.9 L279.3 445.5 L281.2 445.1 L283.0 444.7 L284.9 444.4 L286.8 444.3 L288.7 444.4 L290.5 444.5 L292.4 444.7 L294.3 445.0 L296.2 445.2 L298.0 445.5 L299.9 445.8 L301.8 446.1 L303.7 446.5 L305.5 446.9 L307.4 447.2 L309.3 447.6 L311.2 447.9 L313.0 448.1 L314.9 448.2 L316.8 448.3 L318.7 448.4 L320.5 448.5 L322.4 448.6 L324.3 448.7 L326.2 448.7 L328.0 448.8 L329.9 448.9 L331.8 449.0 L333.7 449.1 L335.5 449.1 L337.4 449.2 L339.3 449.3 L341.2 449.3 L343.0 449.3 L344.9 449.3 L346.8 449.3 L348.7 449.2 L350.5 449.2 L352.4 449.2 L354.3 449.1 L356.2 449.0 L358.0 449.0 L359.9 448.9 L361.8 448.9 L363.7 448.8 L365.5 448.7 L367.4 448.6 L369.3 448.5 L371.2 448.4 L373.0 448.3 L374.9 448.2 L376.8 448.1 L378.7 447.9 L380.5 447.8 L382.4 447.6 L384.3 447.5 L386.2 447.3 L388.0 447.1 L389.9 446.9 L391.8 446.7 L393.7 446.5 L395.5 446.3 L397.4 446.1 L399.3 445.9 L401.2 445.7 L403.0 445.5 L404.9 445.3 L406.8 445.0 L408.7 444.8 L410.5 444.6 L412.4 444.4 L414.3 444.3 L416.2 444.2 L418.0 444.1 L419.9 444.0 L421.8 443.9 L423.6 443.7 L425.5 443.5 L427.4 443.4 L429.3 443.1 L431.1 442.9 L433.0 442.6 L434.9 442.3 L436.8 442.0 L438.6 441.6 L440.5 441.0 L442.4 440.3 L444.3 439.4 L446.1 438.5 L448.0 437.4 L449.9 436.1 L451.8 434.5 L453.6 432.8 L455.5 431.4 L457.4 430.0 L459.3 428.6 L461.1 427.0 L463.0 425.2 L464.9 423.1 L466.8 420.9 L468.6 418.5 L470.5 415.9 L472.4 412.9 L474.3 409.6 L476.1 406.2 L478.0 403.0 L479.9 400.2 L481.8 397.1 L483.6 393.2 L485.5 388.6 L487.4 383.5 L489.3 378.2 L491.1 372.7 L493.0 367.4 L494.9 362.1 L496.8 356.7 L498.6 351.3 L500.5 345.8 L502.4 340.2 L504.3 334.5 L506.1 329.1 L508.0 324.0 L509.9 319.3 L511.8 314.7 L513.6 310.4 L515.5 306.3 L517.4 302.1 L519.3 297.2 L521.1 292.1 L523.0 287.0 L524.9 281.9 L526.8 276.6 L528.6 271.1 L530.5 265.5 L532.4 260.1 L534.3 255.2 L536.1 250.5 L538.0 246.0 L539.9 241.6 L541.8 237.4 L543.6 233.4 L545.5 229.7 L547.4 225.8 L549.3 222.6 L551.1 219.9 L553.0 217.6 L554.9 215.6 L556.8 213.9 L558.6 212.3 L560.5 211.0 L562.4 209.9 L564.3 209.0 L566.1 208.2 L568.0 207.6 L569.9 207.3 L571.8 207.1 L573.6 207.0 L575.5 207.1 L577.4 207.3 L579.2 207.7 L581.1 208.1 L583.0 208.6 L584.9 209.1 L586.7 209.9 L588.6 210.8 L590.5 211.9 L592.4 213.0 L594.2 214.3 L596.1 215.8 L598.0 217.5 L599.9 219.4 L601.7 221.4 L603.6 223.5 L605.5 225.7 L607.4 228.2 L609.2 230.7 L611.1 233.4 L613.0 236.0 L614.9 238.7 L616.7 241.3 L618.6 244.0 L620.5 246.8 L622.4 249.5 L624.2 252.3 L626.1 255.0 L628.0 257.7 L629.9 260.5 L631.7 263.2 L633.6 265.9 L635.5 268.6 L637.4 271.3 L639.2 274.0 L641.1 276.7 L643.0 279.3 L644.9 282.0 L646.7 284.7 L648.6 287.4 L650.5 290.1 L652.4 292.9 L654.2 295.6 L656.1 298.5 L658.0 301.3 L659.9 304.2 L661.7 307.2 L663.6 310.3 L665.5 313.3 L667.4 316.3 L669.2 319.1 L671.1 321.8 L673.0 324.4 L674.9 327.0 L676.7 329.6 L678.6 332.3 L680.5 334.9 L682.4 337.5 L684.2 340.1 L686.1 342.7 L688.0 345.2 L689.9 347.8 L691.7 350.3 L693.6 352.8 L695.5 355.2 L697.4 357.7 L699.2 360.2 L701.1 362.6 L703.0 365.0 L704.9 367.4 L706.7 369.7 L708.6 372.0 L710.5 374.1 L712.4 376.2 L714.2 378.2 L716.1 380.2 L718.0 382.1 L719.9 384.0 L721.7 385.9 L723.6 387.6 L725.5 389.4 L727.4 391.1 L729.2 392.8 L731.1 394.4 L733.0 396.1 L734.8 397.6 L736.7 399.2 L738.6 400.7 L740.5 402.2 L742.3 403.6 L744.2 405.0 L746.1 406.4 L748.0 407.8 L749.8 409.2 L751.7 410.5 L753.6 411.9 L755.5 413.2 L757.3 414.5 L759.2 415.8 L761.1 417.1 L763.0 418.3 L764.8 419.5 L766.7 420.7 L768.6 421.8 L770.5 422.9" stroke="#2c60b8"/>
<path d="M264.3 445.3 L266.2 445.0 L268.0 444.7 L269.9 444.4 L271.8 444.0 L273.7 443.6 L275.5 443.3 L277.4 442.9 L279.3 442.5 L281.2 442.1 L283.0 441.7 L284.9 441.4 L286.8 441.3 L288.7 441.4 L290.5 441.5 L292.4 441.7 L294.3 442.0 L296.2 442.2 L298.0 442.5 L299.9 442.8 L301.8 443.1 L303.7 443.5 L305.5 443.9 L307.4 444.2 L309.3 444.6 L311.2 444.9 L313.0 445.1 L314.9 445.2 L316.8 445.3 L318.7 445.4 L320.5 445.5 L322.4 445.6 L324.3 445.7 L326.2 445.7 L328.0 445.8 L329.9 445.9 L331.8 446.0 L333.7 446.1 L335.5 446.1 L337.4 446.2 L339.3 446.3 L341.2 446.3 L343.0 446.3 L344.9 446.3 L346.8 446.3 L348.7 446.2 L350.5 446.2 L352.4 446.2 L354.3 446.1 L356.2 446.0 L358.0 446.0 L359.9 445.9 L361.8 445.9 L363.7 445.8 L365.5 445.7 L367.4 445.6 L369.3 445.5 L371.2 445.4 L373.0 445.3 L374.9 445.2 L376.8 445.1 L378.7 444.9 L380.5 444.8 L382.4 444.6 L384.3 444.5 L386.2 444.3 L388.0 444.1 L389.9 443.9 L391.8 443.7 L393.7 443.5 L395.5 443.3 L397.4 443.1 L399.3 442.9 L401.2 442.7 L403.0 442.4 L404.9 442.1 L406.8 441.8 L408.7 441.5 L410.5 441.3 L412.4 441.0 L414.3 440.9 L416.2 440.7 L418.0 440.5 L419.9 440.3 L421.8 440.1 L423.6 439.8 L425.5 439.5 L427.4 439.2 L429.3 438.8 L431.1 438.3 L433.0 437.9 L434.9 437.3 L436.8 436.7 L438.6 435.7 L440.5 434.5 L442.4 433.1 L444.3 431.5 L446.1 429.8 L448.0 427.7 L449.9 425.1 L451.8 422.6 L453.6 420.4 L455.5 418.3 L457.4 416.2 L459.3 413.7 L461.1 410.9 L463.0 407.7 L464.9 404.3 L466.8 400.5 L468.6 396.5 L470.5 391.8 L472.4 386.7 L474.3 381.6 L476.1 376.7 L478.0 372.3 L479.9 367.5 L481.8 361.3 L483.6 354.1 L485.5 346.2 L487.4 337.8 L489.3 329.3 L491.1 321.0 L493.0 312.9 L494.9 304.5 L496.8 296.0 L498.6 287.5 L500.5 278.7 L502.4 269.8 L504.3 261.3 L506.1 253.5 L508.0 246.1 L509.9 238.9 L511.8 232.2 L513.6 225.8 L515.5 219.0 L517.4 211.3 L519.3 203.2 L521.1 195.2 L523.0 187.1 L524.9 178.8 L526.8 170.1 L528.6 161.1 L530.5 152.6 L532.4 144.8 L534.3 137.4 L536.1 130.4 L538.0 123.4 L539.9 116.8 L541.8 110.6 L543.6 104.8 L545.5 99.4 L547.4 94.6 L549.3 90.7 L551.1 87.2 L553.0 84.2 L554.9 81.6 L556.8 79.2 L558.6 77.1 L560.5 75.3 L562.4 73.9 L564.3 72.7 L566.1 71.6 L568.0 70.9 L569.9 70.5 L571.8 70.1 L573.6 70.0 L575.5 70.1 L577.4 70.5 L579.2 71.0 L581.1 71.7 L583.0 72.4 L584.9 73.2 L586.7 74.4 L588.6 75.8 L590.5 77.4 L592.4 79.2 L594.2 81.1 L596.1 83.4 L598.0 86.1 L599.9 89.0 L601.7 92.0 L603.6 95.2 L605.5 98.6 L607.4 102.4 L609.2 106.3 L611.1 110.3 L613.0 114.4 L614.9 118.4 L616.7 122.5 L618.6 126.6 L620.5 130.8 L622.4 135.0 L624.2 139.2 L626.1 143.4 L628.0 147.6 L629.9 151.7 L631.7 155.9 L633.6 160.0 L635.5 164.2 L637.4 168.3 L639.2 172.4 L641.1 176.5 L643.0 180.5 L644.9 184.6 L646.7 188.7 L648.6 192.8 L650.5 197.0 L652.4 201.2 L654.2 205.5 L656.1 209.8 L658.0 214.1 L659.9 218.6 L661.7 223.2 L663.6 227.8 L665.5 232.5 L667.4 237.0 L669.2 241.3 L671.1 245.5 L673.0 249.5 L674.9 253.5 L676.7 257.4 L678.6 261.4 L680.5 265.4 L682.4 269.4 L684.2 273.4 L686.1 277.3 L688.0 281.2 L689.9 285.1 L691.7 289.0 L693.6 292.8 L695.5 296.5 L697.4 300.3 L699.2 304.1 L701.1 307.8 L703.0 311.5 L704.9 315.2 L706.7 318.7 L708.6 322.1 L710.5 325.4 L712.4 328.6 L714.2 331.7 L716.1 334.7 L718.0 337.7 L719.9 340.5 L721.7 343.3 L723.6 346.1 L725.5 348.8 L727.4 351.4 L729.2 354.0 L731.1 356.5 L733.0 358.9 L734.8 361.3 L736.7 363.7 L738.6 366.0 L740.5 368.3 L742.3 370.5 L744.2 372.7 L746.1 374.8 L748.0 376.9 L749.8 379.0 L751.7 381.1 L753.6 383.1 L755.5 385.1 L757.3 387.1 L759.2 389.1 L761.1 391.0 L763.0 392.9 L764.8 394.8 L766.7 396.6 L768.6 398.3 L770.5 400.0" stroke="#22887a"/>
<path d="M264.3 446.3 L266.2 446.0 L268.0 445.7 L269.9 445.4 L271.8 445.0 L273.7 444.6 L275.5 444.3 L277.4 443.9 L279.3 443.5 L281.2 443.1 L283.0 442.7 L284.9 442.4 L286.8 442.3 L288.7 442.4 L290.5 442.5 L292.4 442.7 L294.3 443.0 L296.2 443.2 L298.0 443.5 L299.9 443.8 L301.8 444.1 L303.7 444.5 L305.5 444.9 L307.4 445.2 L309.3 445.6 L311.2 445.9 L313.0 446.1 L314.9 446.2 L316.8 446.3 L318.7 446.4 L320.5 446.5 L322.4 446.6 L324.3 446.7 L326.2 446.7 L328.0 446.8 L329.9 446.9 L331.8 447.0 L333.7 447.1 L335.5 447.1 L337.4 447.2 L339.3 447.3 L341.2 447.3 L343.0 447.3 L344.9 447.3 L346.8 447.3 L348.7 447.2 L350.5 447.2 L352.4 447.2 L354.3 447.1 L356.2 447.0 L358.0 447.0 L359.9 446.9 L361.8 446.9 L363.7 446.8 L365.5 446.7 L367.4 446.6 L369.3 446.5 L371.2 446.4 L373.0 446.3 L374.9 446.2 L376.8 446.1 L378.7 445.9 L380.5 445.8 L382.4 445.6 L384.3 445.5 L386.2 445.3 L388.0 445.1 L389.9 444.9 L391.8 444.7 L393.7 444.5 L395.5 444.3 L397.4 444.1 L399.3 443.9 L401.2 443.7 L403.0 443.4 L404.9 443.1 L406.8 442.8 L408.7 442.5 L410.5 442.3 L412.4 442.0 L414.3 441.8 L416.2 441.6 L418.0 441.5 L419.9 441.3 L421.8 441.0 L423.6 440.7 L425.5 440.4 L427.4 440.1 L429.3 439.7 L431.1 439.2 L433.0 438.7 L434.9 438.2 L436.8 437.5 L438.6 436.5 L440.5 435.2 L442.4 433.8 L444.3 432.1 L446.1 430.4 L448.0 428.2 L449.9 425.5 L451.8 422.9 L453.6 420.6 L455.5 418.4 L457.4 416.2 L459.3 413.6 L461.1 410.6 L463.0 407.4 L464.9 403.7 L466.8 399.9 L468.6 395.6 L470.5 390.8 L472.4 385.5 L474.3 380.1 L476.1 375.0 L478.0 370.5 L479.9 365.5 L481.8 359.1 L483.6 351.6 L485.5 343.4 L487.4 334.7 L489.3 326.0 L491.1 317.4 L493.0 308.9 L494.9 300.3 L496.8 291.5 L498.6 282.7 L500.5 273.6 L502.4 264.4 L504.3 255.6 L506.1 247.5 L508.0 239.8 L509.9 232.5 L511.8 225.6 L513.6 219.0 L515.5 211.9 L517.4 204.0 L519.3 195.7 L521.1 187.4 L523.0 179.1 L524.9 170.5 L526.8 161.5 L528.6 152.3 L530.5 143.5 L532.4 135.5 L534.3 127.8 L536.1 120.5 L538.0 113.4 L539.9 106.5 L541.8 100.2 L543.6 94.2 L545.5 88.6 L547.4 83.6 L549.3 79.6 L551.1 76.0 L553.0 72.9 L554.9 70.2 L556.8 67.8 L558.6 65.6 L560.5 63.8 L562.4 62.3 L564.3 61.0 L566.1 59.9 L568.0 59.2 L569.9 58.8 L571.8 58.4 L573.6 58.3 L575.5 58.4 L577.4 58.8 L579.2 59.4 L581.1 60.0 L583.0 60.7 L584.9 61.6 L586.7 62.8 L588.6 64.3 L590.5 65.9 L592.4 67.7 L594.2 69.7 L596.1 72.1 L598.0 74.8 L599.9 77.8 L601.7 81.0 L603.6 84.3 L605.5 87.8 L607.4 91.6 L609.2 95.7 L611.1 99.8 L613.0 104.0 L614.9 108.1 L616.7 112.3 L618.6 116.6 L620.5 120.9 L622.4 125.2 L624.2 129.6 L626.1 133.9 L628.0 138.1 L629.9 142.4 L631.7 146.7 L633.6 151.0 L635.5 155.3 L637.4 159.5 L639.2 163.7 L641.1 167.9 L643.0 172.1 L644.9 176.3 L646.7 180.5 L648.6 184.8 L650.5 189.1 L652.4 193.4 L654.2 197.8 L656.1 202.2 L658.0 206.7 L659.9 211.3 L661.7 216.0 L663.6 220.8 L665.5 225.6 L667.4 230.2 L669.2 234.7 L671.1 238.9 L673.0 243.1 L674.9 247.2 L676.7 251.3 L678.6 255.4 L680.5 259.5 L682.4 263.6 L684.2 267.7 L686.1 271.7 L688.0 275.8 L689.9 279.8 L691.7 283.7 L693.6 287.6 L695.5 291.5 L697.4 295.4 L699.2 299.3 L701.1 303.2 L703.0 307.0 L704.9 310.7 L706.7 314.4 L708.6 317.9 L710.5 321.3 L712.4 324.5 L714.2 327.7 L716.1 330.8 L718.0 333.9 L719.9 336.8 L721.7 339.7 L723.6 342.5 L725.5 345.3 L727.4 348.0 L729.2 350.7 L731.1 353.2 L733.0 355.8 L734.8 358.2 L736.7 360.7 L738.6 363.0 L740.5 365.4 L742.3 367.7 L744.2 369.9 L746.1 372.1 L748.0 374.3 L749.8 376.4 L751.7 378.6 L753.6 380.6 L755.5 382.7 L757.3 384.8 L759.2 386.8 L761.1 388.8 L763.0 390.8 L764.8 392.7 L766.7 394.5 L768.6 396.3 L770.5 398.1" stroke="#a86a78"/>
<path d="M264.3 445.3 L266.2 445.0 L268.0 444.7 L269.9 444.4 L271.8 444.0 L273.7 443.6 L275.5 443.3 L277.4 442.9 L279.3 442.5 L281.2 442.1 L283.0 441.7 L284.9 441.4 L286.8 441.3 L288.7 441.4 L290.5 441.5 L292.4 441.7 L294.3 442.0 L296.2 442.2 L298.0 442.5 L299.9 442.8 L301.8 443.1 L303.7 443.5 L305.5 443.9 L307.4 444.2 L309.3 444.6 L311.2 444.9 L313.0 445.1 L314.9 445.2 L316.8 445.3 L318.7 445.4 L320.5 445.5 L322.4 445.6 L324.3 445.7 L326.2 445.7 L328.0 445.8 L329.9 445.9 L331.8 446.0 L333.7 446.1 L335.5 446.1 L337.4 446.2 L339.3 446.3 L341.2 446.3 L343.0 446.3 L344.9 446.3 L346.8 446.3 L348.7 446.2 L350.5 446.2 L352.4 446.2 L354.3 446.1 L356.2 446.0 L358.0 446.0 L359.9 445.9 L361.8 445.9 L363.7 445.8 L365.5 445.7 L367.4 445.6 L369.3 445.5 L371.2 445.4 L373.0 445.3 L374.9 445.2 L376.8 445.1 L378.7 444.9 L380.5 444.8 L382.4 444.6 L384.3 444.5 L386.2 444.3 L388.0 444.1 L389.9 443.9 L391.8 443.7 L393.7 443.5 L395.5 443.3 L397.4 443.1 L399.3 442.9 L401.2 442.7 L403.0 442.4 L404.9 442.1 L406.8 441.8 L408.7 441.5 L410.5 441.3 L412.4 441.0 L414.3 440.8 L416.2 440.7 L418.0 440.5 L419.9 440.3 L421.8 440.1 L423.6 439.8 L425.5 439.5 L427.4 439.1 L429.3 438.8 L431.1 438.3 L433.0 437.8 L434.9 437.3 L436.8 436.6 L438.6 435.6 L440.5 434.4 L442.4 433.0 L444.3 431.4 L446.1 429.7 L448.0 427.6 L449.9 425.0 L451.8 422.4 L453.6 420.2 L455.5 418.1 L457.4 415.9 L459.3 413.5 L461.1 410.6 L463.0 407.4 L464.9 403.9 L466.8 400.2 L468.6 396.1 L470.5 391.4 L472.4 386.2 L474.3 381.0 L476.1 376.1 L478.0 371.6 L479.9 366.8 L481.8 360.6 L483.6 353.3 L485.5 345.3 L487.4 336.9 L489.3 328.3 L491.1 320.0 L493.0 311.7 L494.9 303.3 L496.8 294.7 L498.6 286.1 L500.5 277.2 L502.4 268.2 L504.3 259.7 L506.1 251.8 L508.0 244.3 L509.9 237.1 L511.8 230.3 L513.6 223.9 L515.5 217.0 L517.4 209.2 L519.3 201.1 L521.1 193.0 L523.0 184.9 L524.9 176.5 L526.8 167.7 L528.6 158.6 L530.5 150.1 L532.4 142.2 L534.3 134.7 L536.1 127.6 L538.0 120.6 L539.9 113.9 L541.8 107.7 L543.6 101.8 L545.5 96.4 L547.4 91.5 L549.3 87.5 L551.1 84.0 L553.0 81.0 L554.9 78.4 L556.8 76.0 L558.6 73.8 L560.5 72.1 L562.4 70.7 L564.3 69.4 L566.1 68.3 L568.0 67.6 L569.9 67.2 L571.8 66.8 L573.6 66.7 L575.5 66.8 L577.4 67.2 L579.2 67.7 L581.1 68.4 L583.0 69.1 L584.9 70.0 L586.7 71.1 L588.6 72.6 L590.5 74.2 L592.4 76.0 L594.2 77.9 L596.1 80.2 L598.0 82.9 L599.9 85.8 L601.7 88.9 L603.6 92.1 L605.5 95.6 L607.4 99.3 L609.2 103.3 L611.1 107.4 L613.0 111.4 L614.9 115.5 L616.7 119.6 L618.6 123.8 L620.5 128.0 L622.4 132.3 L624.2 136.5 L626.1 140.7 L628.0 144.9 L629.9 149.1 L631.7 153.3 L633.6 157.5 L635.5 161.7 L637.4 165.8 L639.2 169.9 L641.1 174.0 L643.0 178.1 L644.9 182.2 L646.7 186.4 L648.6 190.6 L650.5 194.8 L652.4 199.0 L654.2 203.3 L656.1 207.6 L658.0 212.0 L659.9 216.5 L661.7 221.2 L663.6 225.9 L665.5 230.5 L667.4 235.1 L669.2 239.4 L671.1 243.6 L673.0 247.7 L674.9 251.7 L676.7 255.7 L678.6 259.7 L680.5 263.8 L682.4 267.8 L684.2 271.8 L686.1 275.7 L688.0 279.7 L689.9 283.6 L691.7 287.5 L693.6 291.3 L695.5 295.1 L697.4 298.9 L699.2 302.7 L701.1 306.5 L703.0 310.3 L704.9 313.9 L706.7 317.5 L708.6 320.9 L710.5 324.3 L712.4 327.5 L714.2 330.6 L716.1 333.6 L718.0 336.6 L719.9 339.5 L721.7 342.3 L723.6 345.1 L725.5 347.8 L727.4 350.4 L729.2 353.0 L731.1 355.6 L733.0 358.0 L734.8 360.5 L736.7 362.8 L738.6 365.2 L740.5 367.5 L742.3 369.7 L744.2 371.9 L746.1 374.1 L748.0 376.2 L749.8 378.3 L751.7 380.4 L753.6 382.4 L755.5 384.4 L757.3 386.5 L759.2 388.5 L761.1 390.4 L763.0 392.3 L764.8 394.2 L766.7 396.0 L768.6 397.8 L770.5 399.5" stroke="#22c46a"/>
<path d="M264.3 450.8 L266.2 450.5 L268.0 450.2 L269.9 449.9 L271.8 449.5 L273.7 449.1 L275.5 448.8 L277.4 448.4 L279.3 448.0 L281.2 447.6 L283.0 447.2 L284.9 446.9 L286.8 446.8 L288.7 446.9 L290.5 447.0 L292.4 447.2 L294.3 447.5 L296.2 447.7 L298.0 448.0 L299.9 448.3 L301.8 448.6 L303.7 449.0 L305.5 449.4 L307.4 449.7 L309.3 450.1 L311.2 450.4 L313.0 450.6 L314.9 450.7 L316.8 450.8 L318.7 450.9 L320.5 451.0 L322.4 451.1 L324.3 451.2 L326.2 451.2 L328.0 451.3 L329.9 451.4 L331.8 451.5 L333.7 451.6 L335.5 451.6 L337.4 451.7 L339.3 451.8 L341.2 451.8 L343.0 451.8 L344.9 451.8 L346.8 451.8 L348.7 451.7 L350.5 451.7 L352.4 451.7 L354.3 451.6 L356.2 451.5 L358.0 451.5 L359.9 451.4 L361.8 451.4 L363.7 451.3 L365.5 451.2 L367.4 451.1 L369.3 451.0 L371.2 450.9 L373.0 450.8 L374.9 450.7 L376.8 450.6 L378.7 450.4 L380.5 450.3 L382.4 450.1 L384.3 450.0 L386.2 449.8 L388.0 449.6 L389.9 449.4 L391.8 449.2 L393.7 449.0 L395.5 448.8 L397.4 448.6 L399.3 448.4 L401.2 448.2 L403.0 447.9 L404.9 447.6 L406.8 447.3 L408.7 447.0 L410.5 446.7 L412.4 446.5 L414.3 446.3 L416.2 446.1 L418.0 445.9 L419.9 445.7 L421.8 445.4 L423.6 445.2 L425.5 444.8 L427.4 444.5 L429.3 444.1 L431.1 443.6 L433.0 443.1 L434.9 442.5 L436.8 441.8 L438.6 440.8 L440.5 439.5 L442.4 437.9 L444.3 436.3 L446.1 434.5 L448.0 432.2 L449.9 429.4 L451.8 426.7 L453.6 424.2 L455.5 421.8 L457.4 419.3 L459.3 416.6 L461.1 413.4 L463.0 409.8 L464.9 406.0 L466.8 401.8 L468.6 397.3 L470.5 392.2 L472.4 386.6 L474.3 381.0 L476.1 375.6 L478.0 370.8 L479.9 365.6 L481.8 358.9 L483.6 351.1 L485.5 342.6 L487.4 333.6 L489.3 324.4 L491.1 315.6 L493.0 306.8 L494.9 297.8 L496.8 288.7 L498.6 279.6 L500.5 270.2 L502.4 260.7 L504.3 251.7 L506.1 243.4 L508.0 235.4 L509.9 227.9 L511.8 220.9 L513.6 214.1 L515.5 206.9 L517.4 198.8 L519.3 190.3 L521.1 181.9 L523.0 173.4 L524.9 164.6 L526.8 155.4 L528.6 146.0 L530.5 137.0 L532.4 128.8 L534.3 121.0 L536.1 113.6 L538.0 106.3 L539.9 99.3 L541.8 92.8 L543.6 86.7 L545.5 81.0 L547.4 75.9 L549.3 71.7 L551.1 68.1 L553.0 64.9 L554.9 62.2 L556.8 59.7 L558.6 57.5 L560.5 55.6 L562.4 54.1 L564.3 52.8 L566.1 51.7 L568.0 50.9 L569.9 50.5 L571.8 50.1 L573.6 50.0 L575.5 50.1 L577.4 50.5 L579.2 51.1 L581.1 51.8 L583.0 52.5 L584.9 53.4 L586.7 54.6 L588.6 56.1 L590.5 57.8 L592.4 59.6 L594.2 61.7 L596.1 64.1 L598.0 66.9 L599.9 69.9 L601.7 73.2 L603.6 76.5 L605.5 80.1 L607.4 84.0 L609.2 88.1 L611.1 92.4 L613.0 96.6 L614.9 100.8 L616.7 105.1 L618.6 109.5 L620.5 113.9 L622.4 118.3 L624.2 122.7 L626.1 127.1 L628.0 131.5 L629.9 135.8 L631.7 140.2 L633.6 144.6 L635.5 148.9 L637.4 153.3 L639.2 157.6 L641.1 161.8 L643.0 166.1 L644.9 170.4 L646.7 174.7 L648.6 179.0 L650.5 183.4 L652.4 187.9 L654.2 192.3 L656.1 196.8 L658.0 201.4 L659.9 206.1 L661.7 210.9 L663.6 215.8 L665.5 220.7 L667.4 225.4 L669.2 230.0 L671.1 234.3 L673.0 238.6 L674.9 242.7 L676.7 246.9 L678.6 251.1 L680.5 255.3 L682.4 259.5 L684.2 263.6 L686.1 267.8 L688.0 271.9 L689.9 276.0 L691.7 280.0 L693.6 284.0 L695.5 288.0 L697.4 291.9 L699.2 295.9 L701.1 299.8 L703.0 303.7 L704.9 307.5 L706.7 311.3 L708.6 314.9 L710.5 318.3 L712.4 321.7 L714.2 324.9 L716.1 328.1 L718.0 331.2 L719.9 334.2 L721.7 337.1 L723.6 340.0 L725.5 342.8 L727.4 345.6 L729.2 348.3 L731.1 350.9 L733.0 353.5 L734.8 356.0 L736.7 358.5 L738.6 360.9 L740.5 363.3 L742.3 365.7 L744.2 367.9 L746.1 370.2 L748.0 372.4 L749.8 374.6 L751.7 376.8 L753.6 378.9 L755.5 381.0 L757.3 383.1 L759.2 385.2 L761.1 387.2 L763.0 389.2 L764.8 391.2 L766.7 393.1 L768.6 394.9 L770.5 396.7" stroke="#b0186a"/>
<path d="M264.3 445.3 L266.2 445.0 L268.0 444.7 L269.9 444.4 L271.8 444.0 L273.7 443.6 L275.5 443.3 L277.4 442.9 L279.3 442.5 L281.2 442.1 L283.0 441.7 L284.9 441.4 L286.8 441.3 L288.7 441.4 L290.5 441.5 L292.4 441.7 L294.3 442.0 L296.2 442.2 L298.0 442.5 L299.9 442.8 L301.8 443.1 L303.7 443.5 L305.5 443.9 L307.4 444.2 L309.3 444.6 L311.2 444.9 L313.0 445.1 L314.9 445.2 L316.8 445.3 L318.7 445.4 L320.5 445.5 L322.4 445.6 L324.3 445.7 L326.2 445.7 L328.0 445.8 L329.9 445.9 L331.8 446.0 L333.7 446.1 L335.5 446.1 L337.4 446.2 L339.3 446.3 L341.2 446.3 L343.0 446.3 L344.9 446.3 L346.8 446.3 L348.7 446.2 L350.5 446.2 L352.4 446.2 L354.3 446.1 L356.2 446.0 L358.0 446.0 L359.9 445.9 L361.8 445.9 L363.7 445.8 L365.5 445.7 L367.4 445.6 L369.3 445.5 L371.2 445.4 L373.0 445.3 L374.9 445.2 L376.8 445.1 L378.7 444.9 L380.5 444.8 L382.4 444.6 L384.3 444.5 L386.2 444.3 L388.0 444.1 L389.9 443.9 L391.8 443.7 L393.7 443.5 L395.5 443.3 L397.4 443.1 L399.3 442.9 L401.2 442.7 L403.0 442.4 L404.9 442.1 L406.8 441.8 L408.7 441.5 L410.5 441.2 L412.4 441.0 L414.3 440.8 L416.2 440.6 L418.0 440.4 L419.9 440.2 L421.8 440.0 L423.6 439.7 L425.5 439.4 L427.4 439.0 L429.3 438.6 L431.1 438.2 L433.0 437.7 L434.9 437.1 L436.8 436.4 L438.6 435.3 L440.5 434.1 L442.4 432.6 L444.3 430.9 L446.1 429.2 L448.0 426.9 L449.9 424.2 L451.8 421.5 L453.6 419.2 L455.5 417.0 L457.4 414.7 L459.3 412.1 L461.1 409.1 L463.0 405.8 L464.9 402.1 L466.8 398.2 L468.6 393.9 L470.5 389.0 L472.4 383.6 L474.3 378.2 L476.1 373.0 L478.0 368.3 L479.9 363.3 L481.8 356.8 L483.6 349.2 L485.5 340.8 L487.4 332.0 L489.3 323.0 L491.1 314.3 L493.0 305.6 L494.9 296.8 L496.8 287.9 L498.6 278.9 L500.5 269.6 L502.4 260.2 L504.3 251.3 L506.1 243.0 L508.0 235.2 L509.9 227.6 L511.8 220.6 L513.6 213.8 L515.5 206.6 L517.4 198.5 L519.3 190.0 L521.1 181.6 L523.0 173.0 L524.9 164.3 L526.8 155.0 L528.6 145.6 L530.5 136.7 L532.4 128.4 L534.3 120.6 L536.1 113.1 L538.0 105.8 L539.9 98.8 L541.8 92.3 L543.6 86.2 L545.5 80.5 L547.4 75.4 L549.3 71.3 L551.1 67.6 L553.0 64.4 L554.9 61.7 L556.8 59.2 L558.6 57.0 L560.5 55.1 L562.4 53.6 L564.3 52.3 L566.1 51.2 L568.0 50.4 L569.9 50.0 L571.8 49.6 L573.6 49.5 L575.5 49.6 L577.4 50.0 L579.2 50.6 L581.1 51.3 L583.0 52.0 L584.9 52.9 L586.7 54.1 L588.6 55.6 L590.5 57.3 L592.4 59.2 L594.2 61.2 L596.1 63.6 L598.0 66.4 L599.9 69.5 L601.7 72.7 L603.6 76.0 L605.5 79.6 L607.4 83.5 L609.2 87.7 L611.1 91.9 L613.0 96.2 L614.9 100.4 L616.7 104.7 L618.6 109.0 L620.5 113.5 L622.4 117.9 L624.2 122.3 L626.1 126.7 L628.0 131.1 L629.9 135.4 L631.7 139.8 L633.6 144.2 L635.5 148.5 L637.4 152.9 L639.2 157.2 L641.1 161.5 L643.0 165.7 L644.9 170.0 L646.7 174.3 L648.6 178.7 L650.5 183.1 L652.4 187.5 L654.2 192.0 L656.1 196.5 L658.0 201.1 L659.9 205.8 L661.7 210.6 L663.6 215.5 L665.5 220.4 L667.4 225.1 L669.2 229.7 L671.1 234.0 L673.0 238.3 L674.9 242.5 L676.7 246.6 L678.6 250.8 L680.5 255.0 L682.4 259.2 L684.2 263.4 L686.1 267.5 L688.0 271.7 L689.9 275.7 L691.7 279.8 L693.6 283.8 L695.5 287.7 L697.4 291.7 L699.2 295.7 L701.1 299.6 L703.0 303.5 L704.9 307.4 L706.7 311.1 L708.6 314.7 L710.5 318.2 L712.4 321.5 L714.2 324.7 L716.1 327.9 L718.0 331.0 L719.9 334.0 L721.7 337.0 L723.6 339.9 L725.5 342.7 L727.4 345.5 L729.2 348.2 L731.1 350.8 L733.0 353.4 L734.8 355.9 L736.7 358.4 L738.6 360.8 L740.5 363.2 L742.3 365.5 L744.2 367.8 L746.1 370.1 L748.0 372.3 L749.8 374.5 L751.7 376.7 L753.6 378.8 L755.5 380.9 L757.3 383.0 L759.2 385.1 L761.1 387.2 L763.0 389.2 L764.8 391.1 L766.7 393.0 L768.6 394.8 L770.5 396.6" stroke="#38ccb4"/>
<path d="M264.3 448.3 L266.2 448.0 L268.0 447.7 L269.9 447.4 L271.8 447.0 L273.7 446.6 L275.5 446.3 L277.4 445.9 L279.3 445.5 L281.2 445.1 L283.0 444.7 L284.9 444.4 L286.8 444.3 L288.7 444.4 L290.5 444.5 L292.4 444.7 L294.3 445.0 L296.2 445.2 L298.0 445.5 L299.9 445.8 L301.8 446.1 L303.7 446.5 L305.5 446.9 L307.4 447.2 L309.3 447.6 L311.2 447.9 L313.0 448.1 L314.9 448.2 L316.8 448.3 L318.7 448.4 L320.5 448.5 L322.4 448.6 L324.3 448.7 L326.2 448.7 L328.0 448.8 L329.9 448.9 L331.8 449.0 L333.7 449.1 L335.5 449.1 L337.4 449.2 L339.3 449.3 L341.2 449.3 L343.0 449.3 L344.9 449.3 L346.8 449.3 L348.7 449.2 L350.5 449.2 L352.4 449.2 L354.3 449.1 L356.2 449.0 L358.0 449.0 L359.9 448.9 L361.8 448.9 L363.7 448.8 L365.5 448.7 L367.4 448.6 L369.3 448.5 L371.2 448.4 L373.0 448.3 L374.9 448.2 L376.8 448.1 L378.7 447.9 L380.5 447.8 L382.4 447.6 L384.3 447.5 L386.2 447.3 L388.0 447.1 L389.9 446.9 L391.8 446.7 L393.7 446.5 L395.5 446.3 L397.4 446.1 L399.3 445.9 L401.2 445.6 L403.0 445.3 L404.9 445.0 L406.8 444.6 L408.7 444.3 L410.5 444.1 L412.4 443.8 L414.3 443.6 L416.2 443.4 L418.0 443.2 L419.9 442.9 L421.8 442.6 L423.6 442.3 L425.5 441.9 L427.4 441.5 L429.3 441.1 L431.1 440.6 L433.0 440.0 L434.9 439.2 L436.8 438.1 L438.6 436.8 L440.5 435.3 L442.4 433.6 L444.3 431.8 L446.1 429.5 L448.0 426.7 L449.9 423.9 L451.8 421.5 L453.6 419.2 L455.5 416.7 L457.4 414.0 L459.3 410.8 L461.1 407.3 L463.0 403.5 L464.9 399.4 L466.8 394.9 L468.6 389.8 L470.5 384.2 L472.4 378.6 L474.3 373.2 L476.1 368.4 L478.0 363.1 L479.9 356.4 L481.8 348.6 L483.6 340.0 L485.5 330.9 L487.4 321.7 L489.3 312.8 L491.1 303.9 L493.0 294.9 L494.9 285.7 L496.8 276.5 L498.6 267.0 L500.5 257.3 L502.4 248.2 L504.3 239.8 L506.1 231.7 L508.0 224.0 L509.9 216.9 L511.8 210.0 L513.6 202.7 L515.5 194.5 L517.4 185.8 L519.3 177.2 L521.1 168.6 L523.0 159.7 L524.9 150.3 L526.8 140.6 L528.6 131.5 L530.5 123.1 L532.4 115.2 L534.3 107.6 L536.1 100.2 L538.0 93.0 L539.9 86.4 L541.8 80.2 L543.6 74.4 L545.5 69.6 L547.4 65.6 L549.3 62.0 L551.1 58.9 L553.0 56.2 L554.9 53.7 L556.8 51.5 L558.6 49.6 L560.5 48.0 L562.4 46.7 L564.3 45.5 L566.1 44.5 L568.0 43.8 L569.9 43.4 L571.8 43.1 L573.6 43.0 L575.5 43.1 L577.4 43.5 L579.2 44.1 L581.1 44.8 L583.0 45.5 L584.9 46.5 L586.7 47.7 L588.6 49.2 L590.5 50.9 L592.4 52.8 L594.2 54.9 L596.1 57.3 L598.0 60.2 L599.9 63.3 L601.7 66.5 L603.6 69.9 L605.5 73.6 L607.4 77.6 L609.2 81.8 L611.1 86.1 L613.0 90.4 L614.9 94.7 L616.7 99.0 L618.6 103.5 L620.5 108.0 L622.4 112.5 L624.2 116.9 L626.1 121.4 L628.0 125.8 L629.9 130.3 L631.7 134.7 L633.6 139.2 L635.5 143.6 L637.4 148.0 L639.2 152.4 L641.1 156.7 L643.0 161.1 L644.9 165.4 L646.7 169.8 L648.6 174.2 L650.5 178.7 L652.4 183.2 L654.2 187.7 L656.1 192.3 L658.0 196.9 L659.9 201.7 L661.7 206.6 L663.6 211.6 L665.5 216.6 L667.4 221.4 L669.2 226.0 L671.1 230.4 L673.0 234.7 L674.9 239.0 L676.7 243.2 L678.6 247.5 L680.5 251.7 L682.4 256.0 L684.2 260.2 L686.1 264.4 L688.0 268.6 L689.9 272.8 L691.7 276.9 L693.6 280.9 L695.5 285.0 L697.4 289.0 L699.2 293.0 L701.1 297.0 L703.0 301.0 L704.9 304.9 L706.7 308.7 L708.6 312.3 L710.5 315.8 L712.4 319.2 L714.2 322.5 L716.1 325.7 L718.0 328.9 L719.9 332.0 L721.7 335.0 L723.6 337.9 L725.5 340.8 L727.4 343.6 L729.2 346.3 L731.1 349.0 L733.0 351.6 L734.8 354.2 L736.7 356.7 L738.6 359.2 L740.5 361.6 L742.3 364.0 L744.2 366.3 L746.1 368.6 L748.0 370.8 L749.8 373.1 L751.7 375.3 L753.6 377.4 L755.5 379.6 L757.3 381.7 L759.2 383.8 L761.1 385.9 L763.0 388.0 L764.8 389.9 L766.7 391.9 L768.6 393.7 L770.5 395.5" stroke="#3840a2"/>
<path d="M264.3 443.8 L266.2 443.5 L268.0 443.2 L269.9 442.9 L271.8 442.5 L273.7 442.1 L275.5 441.8 L277.4 441.4 L279.3 441.0 L281.2 440.6 L283.0 440.2 L284.9 439.9 L286.8 439.8 L288.7 439.9 L290.5 440.0 L292.4 440.2 L294.3 440.5 L296.2 440.7 L298.0 441.0 L299.9 441.3 L301.8 441.6 L303.7 442.0 L305.5 442.4 L307.4 442.7 L309.3 443.1 L311.2 443.4 L313.0 443.6 L314.9 443.7 L316.8 443.8 L318.7 443.9 L320.5 444.0 L322.4 444.1 L324.3 444.2 L326.2 444.2 L328.0 444.3 L329.9 444.4 L331.8 444.5 L333.7 444.6 L335.5 444.6 L337.4 444.7 L339.3 444.8 L341.2 444.8 L343.0 444.8 L344.9 444.8 L346.8 444.8 L348.7 444.7 L350.5 444.7 L352.4 444.7 L354.3 444.6 L356.2 444.5 L358.0 444.5 L359.9 444.4 L361.8 444.4 L363.7 444.3 L365.5 444.2 L367.4 444.1 L369.3 444.0 L371.2 443.9 L373.0 443.8 L374.9 443.7 L376.8 443.6 L378.7 443.4 L380.5 443.3 L382.4 443.1 L384.3 443.0 L386.2 442.8 L388.0 442.6 L389.9 442.4 L391.8 442.2 L393.7 442.0 L395.5 441.8 L397.4 441.6 L399.3 441.4 L401.2 441.2 L403.0 440.9 L404.9 440.6 L406.8 440.3 L408.7 440.1 L410.5 439.8 L412.4 439.6 L414.3 439.4 L416.2 439.2 L418.0 439.1 L419.9 438.9 L421.8 438.6 L423.6 438.4 L425.5 438.1 L427.4 437.8 L429.3 437.4 L431.1 437.0 L433.0 436.5 L434.9 436.0 L436.8 435.4 L438.6 434.5 L440.5 433.4 L442.4 432.0 L444.3 430.5 L446.1 428.9 L448.0 426.9 L449.9 424.4 L451.8 421.9 L453.6 419.7 L455.5 417.7 L457.4 415.7 L459.3 413.4 L461.1 410.7 L463.0 407.7 L464.9 404.4 L466.8 400.9 L468.6 397.0 L470.5 392.6 L472.4 387.7 L474.3 382.6 L476.1 377.7 L478.0 373.4 L479.9 368.9 L481.8 363.1 L483.6 356.2 L485.5 348.5 L487.4 340.4 L489.3 332.1 L491.1 323.8 L493.0 315.8 L494.9 307.6 L496.8 299.3 L498.6 290.9 L500.5 282.3 L502.4 273.6 L504.3 265.1 L506.1 257.3 L508.0 249.9 L509.9 242.8 L511.8 236.0 L513.6 229.7 L515.5 223.1 L517.4 215.7 L519.3 207.7 L521.1 199.8 L523.0 191.8 L524.9 183.7 L526.8 175.1 L528.6 166.3 L530.5 157.8 L532.4 150.0 L534.3 142.6 L536.1 135.5 L538.0 128.7 L539.9 122.0 L541.8 115.8 L543.6 110.1 L545.5 104.6 L547.4 99.6 L549.3 95.5 L551.1 92.0 L553.0 88.9 L554.9 86.2 L556.8 83.8 L558.6 81.7 L560.5 79.9 L562.4 78.5 L564.3 77.2 L566.1 76.1 L568.0 75.4 L569.9 75.0 L571.8 74.6 L573.6 74.5 L575.5 74.6 L577.4 75.0 L579.2 75.5 L581.1 76.2 L583.0 76.9 L584.9 77.7 L586.7 78.9 L588.6 80.3 L590.5 81.8 L592.4 83.6 L594.2 85.5 L596.1 87.8 L598.0 90.4 L599.9 93.3 L601.7 96.3 L603.6 99.4 L605.5 102.8 L607.4 106.5 L609.2 110.4 L611.1 114.4 L613.0 118.4 L614.9 122.3 L616.7 126.4 L618.6 130.5 L620.5 134.6 L622.4 138.8 L624.2 142.9 L626.1 147.1 L628.0 151.2 L629.9 155.3 L631.7 159.4 L633.6 163.5 L635.5 167.6 L637.4 171.7 L639.2 175.7 L641.1 179.8 L643.0 183.8 L644.9 187.8 L646.7 191.8 L648.6 195.9 L650.5 200.1 L652.4 204.2 L654.2 208.4 L656.1 212.7 L658.0 217.0 L659.9 221.4 L661.7 225.9 L663.6 230.6 L665.5 235.1 L667.4 239.6 L669.2 243.9 L671.1 248.0 L673.0 252.0 L674.9 255.9 L676.7 259.8 L678.6 263.8 L680.5 267.7 L682.4 271.7 L684.2 275.6 L686.1 279.5 L688.0 283.3 L689.9 287.2 L691.7 291.0 L693.6 294.7 L695.5 298.5 L697.4 302.2 L699.2 305.9 L701.1 309.6 L703.0 313.3 L704.9 316.9 L706.7 320.4 L708.6 323.8 L710.5 327.0 L712.4 330.2 L714.2 333.2 L716.1 336.2 L718.0 339.1 L719.9 342.0 L721.7 344.7 L723.6 347.5 L725.5 350.1 L727.4 352.7 L729.2 355.2 L731.1 357.7 L733.0 360.2 L734.8 362.5 L736.7 364.9 L738.6 367.1 L740.5 369.4 L742.3 371.6 L744.2 373.7 L746.1 375.9 L748.0 378.0 L749.8 380.0 L751.7 382.0 L753.6 384.1 L755.5 386.0 L757.3 388.0 L759.2 390.0 L761.1 391.9 L763.0 393.8 L764.8 395.6 L766.7 397.4 L768.6 399.1 L770.5 400.8" stroke="#a2b424"/>
</g>
<rect x="218.3" y="11.5" width="665.4" height="489.5" fill="none" stroke="#000" stroke-width="3.4"/>
<line x1="206.8" y1="466.3" x2="218.3" y2="466.3" stroke="#000" stroke-width="3"/>
<line x1="206.8" y1="291.2" x2="218.3" y2="291.2" stroke="#000" stroke-width="3"/>
<line x1="206.8" y1="116.2" x2="218.3" y2="116.2" stroke="#000" stroke-width="3"/>
<line x1="264.3" y1="501" x2="264.3" y2="512.6" stroke="#000" stroke-width="3"/>
<text class="b" x="264.3" y="548" font-size="37.5" text-anchor="middle">400</text>
<line x1="358.0" y1="501" x2="358.0" y2="512.6" stroke="#000" stroke-width="3"/>
<text class="b" x="358.0" y="548" font-size="37.5" text-anchor="middle">450</text>
<line x1="451.8" y1="501" x2="451.8" y2="512.6" stroke="#000" stroke-width="3"/>
<text class="b" x="451.8" y="548" font-size="37.5" text-anchor="middle">500</text>
<line x1="545.5" y1="501" x2="545.5" y2="512.6" stroke="#000" stroke-width="3"/>
<text class="b" x="545.5" y="548" font-size="37.5" text-anchor="middle">550</text>
<line x1="639.2" y1="501" x2="639.2" y2="512.6" stroke="#000" stroke-width="3"/>
<text class="b" x="639.2" y="548" font-size="37.5" text-anchor="middle">600</text>
<line x1="733.0" y1="501" x2="733.0" y2="512.6" stroke="#000" stroke-width="3"/>
<text class="b" x="733.0" y="548" font-size="37.5" text-anchor="middle">650</text>
<line x1="826.7" y1="501" x2="826.7" y2="512.6" stroke="#000" stroke-width="3"/>
<text class="b" x="826.7" y="548" font-size="37.5" text-anchor="middle">700</text>
<text class="b" x="202" y="478.4" font-size="37.5" text-anchor="end">0.0</text>
<text class="b" x="202" y="306.5" font-size="37.5" text-anchor="end">5.0x10<tspan font-size="22" dy="-19">3</tspan></text>
<text class="b" x="202" y="131.3" font-size="37.5" text-anchor="end">1.0x10<tspan font-size="22" dy="-19">4</tspan></text>
<text class="t" font-size="47" text-anchor="middle" transform="translate(35.6 273.2) rotate(-90)">FI (a.u.)</text>
<text class="t" x="552" y="603.2" font-size="49" text-anchor="middle">λ (nm)</text>
<g stroke-width="5.6" stroke-linecap="round">
<line x1="787" y1="26.7" x2="820" y2="26.7" stroke="#000000"/>
<line x1="787" y1="51.7" x2="820" y2="51.7" stroke="#a0104e"/>
<line x1="787" y1="76.7" x2="820" y2="76.7" stroke="#1a1aa0"/>
<line x1="787" y1="101.7" x2="820" y2="101.7" stroke="#b4207a"/>
<line x1="787" y1="126.7" x2="820" y2="126.7" stroke="#25877a"/>
<line x1="787" y1="151.7" x2="820" y2="151.7" stroke="#14148a"/>
<line x1="787" y1="176.7" x2="820" y2="176.7" stroke="#980866"/>
<line x1="787" y1="201.7" x2="820" y2="201.7" stroke="#781060"/>
<line x1="787" y1="226.7" x2="820" y2="226.7" stroke="#900e4a"/>
<line x1="787" y1="251.7" x2="820" y2="251.7" stroke="#969634"/>
<line x1="787" y1="276.7" x2="820" y2="276.7" stroke="#2c60b8"/>
<line x1="787" y1="301.7" x2="820" y2="301.7" stroke="#22887a"/>
<line x1="787" y1="326.7" x2="820" y2="326.7" stroke="#a86a78"/>
<line x1="787" y1="359.6" x2="820" y2="359.6" stroke="#22c46a"/>
<line x1="787" y1="392.3" x2="820" y2="392.3" stroke="#b0186a"/>
<line x1="787" y1="424.4" x2="820" y2="424.4" stroke="#38ccb4"/>
<line x1="787" y1="457.3" x2="820" y2="457.3" stroke="#3840a2"/>
<line x1="787" y1="490.2" x2="820" y2="490.2" stroke="#a2b424"/>
</g>
<text class="t" x="829.6" y="31.3" font-size="21.2">AA</text>
<text class="t" x="829.6" y="56.3" font-size="21.2">Gly</text>
<text class="t" x="829.6" y="81.3" font-size="21.2">Glu</text>
<text class="t" x="829.6" y="106.3" font-size="21.2">Arg</text>
<text class="t" x="829.6" y="131.3" font-size="21.2">Lys</text>
<text class="t" x="829.6" y="156.3" font-size="21.2">Pro</text>
<text class="t" x="829.6" y="181.3" font-size="21.2">His</text>
<text class="t" x="829.6" y="206.3" font-size="21.2">Cys</text>
<text class="t" x="829.6" y="231.3" font-size="21.2">GSH</text>
<text class="t" x="829.6" y="256.3" font-size="21.2">GLU</text>
<text class="t" x="829.6" y="281.3" font-size="21.2">DA</text>
<text class="t" x="829.6" y="306.3" font-size="21.2">BSA</text>
<text class="t" x="829.6" y="331.3" font-size="21.2">UA</text>
<text class="t" x="829.6" y="364.2" font-size="21.2">Ca<tspan font-size="19.5" dy="-9.8">2+</tspan></text>
<text class="t" x="829.6" y="396.9" font-size="21.2">Na<tspan font-size="19.5" dy="-9.8">+</tspan></text>
<text class="t" x="829.6" y="429.0" font-size="21.2">Zn<tspan font-size="19.5" dy="-9.8">2+</tspan></text>
<text class="t" x="829.6" y="461.9" font-size="21.2">Cu<tspan font-size="19.5" dy="-9.8">2+</tspan></text>
<text class="t" x="829.6" y="494.8" font-size="21.2">Fe<tspan font-size="19.5" dy="-9.8">3+</tspan></text>
<text class="b" x="948" y="37.6" font-size="51.5">b</text>
<defs><linearGradient id="aag" x1="0" y1="0" x2="0" y2="1"><stop offset="0" stop-color="#d6dce8"/><stop offset="0.25" stop-color="#b7c1d2"/><stop offset="0.7" stop-color="#b0bccf"/><stop offset="0.88" stop-color="#c0d4e0"/><stop offset="1" stop-color="#b2dbe4"/></linearGradient><linearGradient id="yg" x1="0" y1="0" x2="1" y2="0"><stop offset="0" stop-color="#d6b860"/><stop offset="0.5" stop-color="#dec26c"/><stop offset="1" stop-color="#d5b75e"/></linearGradient></defs>
<g>
<rect x="1103" y="18.5" width="660" height="45.5" fill="#e8e9f1"/>
<rect x="1103" y="56" width="660" height="3" fill="#d6ecf0"/>
<rect x="1103" y="59" width="660" height="5" fill="#bce2ea"/>
<rect x="1104.5" y="19.5" width="35" height="44" fill="url(#aag)"/>
<rect x="1144.2" y="22" width="29.6" height="36.3" rx="2" fill="url(#yg)"/>
<circle cx="1157.3" cy="55.5" r="1.3" fill="#fff6dc"/>
<rect x="1178.2" y="22" width="29.6" height="36.3" rx="2" fill="url(#yg)"/>
<rect x="1174.7" y="45.5" width="2.6" height="18.5" fill="#b4b4c4"/>
<circle cx="1191.3" cy="55.5" r="1.3" fill="#fff6dc"/>
<rect x="1212.2" y="22" width="31.0" height="36.3" rx="2" fill="url(#yg)"/>
<rect x="1208.7" y="45.5" width="2.6" height="18.5" fill="#8c8ca0"/>
<circle cx="1225.9" cy="55.5" r="1.3" fill="#fff6dc"/>
<rect x="1247.6" y="22" width="30.9" height="36.3" rx="2" fill="url(#yg)"/>
<rect x="1244.1" y="45.5" width="2.6" height="18.5" fill="#6a6a82"/>
<circle cx="1261.3" cy="55.5" r="1.3" fill="#fff6dc"/>
<rect x="1282.9" y="22" width="31.3" height="36.3" rx="2" fill="url(#yg)"/>
<rect x="1279.4" y="45.5" width="2.6" height="18.5" fill="#45465e"/>
<circle cx="1296.8" cy="55.5" r="1.3" fill="#fff6dc"/>
<rect x="1318.6" y="22" width="32.6" height="36.3" rx="2" fill="url(#yg)"/>
<rect x="1315.1" y="45.5" width="2.6" height="18.5" fill="#45465e"/>
<circle cx="1333.1" cy="55.5" r="1.3" fill="#fff6dc"/>
<rect x="1355.6" y="22" width="33.0" height="36.3" rx="2" fill="url(#yg)"/>
<rect x="1352.1" y="45.5" width="2.6" height="18.5" fill="#45465e"/>
<circle cx="1370.2" cy="55.5" r="1.3" fill="#fff6dc"/>
<rect x="1393.0" y="22" width="32.7" height="36.3" rx="2" fill="url(#yg)"/>
<rect x="1389.5" y="45.5" width="2.6" height="18.5" fill="#45465e"/>
<circle cx="1407.5" cy="55.5" r="1.3" fill="#fff6dc"/>
<rect x="1430.1" y="22" width="32.5" height="36.3" rx="2" fill="url(#yg)"/>
<rect x="1426.6" y="45.5" width="2.6" height="18.5" fill="#45465e"/>
<circle cx="1444.5" cy="55.5" r="1.3" fill="#fff6dc"/>
<rect x="1467.0" y="22" width="33.0" height="36.3" rx="2" fill="url(#yg)"/>
<rect x="1463.5" y="45.5" width="2.6" height="18.5" fill="#45465e"/>
<circle cx="1481.6" cy="55.5" r="1.3" fill="#fff6dc"/>
<rect x="1504.4" y="22" width="33.6" height="36.3" rx="2" fill="url(#yg)"/>
<rect x="1500.9" y="45.5" width="2.6" height="18.5" fill="#45465e"/>
<circle cx="1519.3" cy="55.5" r="1.3" fill="#fff6dc"/>
<rect x="1542.4" y="22" width="32.9" height="36.3" rx="2" fill="url(#yg)"/>
<rect x="1538.9" y="45.5" width="2.6" height="18.5" fill="#45465e"/>
<circle cx="1557.0" cy="55.5" r="1.3" fill="#fff6dc"/>
<rect x="1579.7" y="22" width="32.5" height="36.3" rx="2" fill="url(#yg)"/>
<rect x="1576.2" y="45.5" width="2.6" height="18.5" fill="#45465e"/>
<circle cx="1594.1" cy="55.5" r="1.3" fill="#fff6dc"/>
<rect x="1616.6" y="22" width="32.4" height="36.3" rx="2" fill="url(#yg)"/>
<rect x="1613.1" y="45.5" width="2.6" height="18.5" fill="#45465e"/>
<circle cx="1631.0" cy="55.5" r="1.3" fill="#fff6dc"/>
<rect x="1653.4" y="22" width="32.4" height="36.3" rx="2" fill="url(#yg)"/>
<rect x="1649.9" y="45.5" width="2.6" height="18.5" fill="#45465e"/>
<circle cx="1667.8" cy="55.5" r="1.3" fill="#fff6dc"/>
<rect x="1690.2" y="22" width="32.5" height="36.3" rx="2" fill="url(#yg)"/>
<rect x="1686.7" y="45.5" width="2.6" height="18.5" fill="#45465e"/>
<circle cx="1704.6" cy="55.5" r="1.3" fill="#fff6dc"/>
<rect x="1727.1" y="22" width="33.2" height="36.3" rx="2" fill="url(#yg)"/>
<rect x="1723.6" y="45.5" width="2.6" height="18.5" fill="#45465e"/>
<circle cx="1741.8" cy="55.5" r="1.3" fill="#fff6dc"/>
<rect x="1101.5" y="18" width="4" height="46" fill="#08081e"/>
<rect x="1760.5" y="18" width="3" height="46" fill="#262638"/>
</g>
<g stroke="#000" stroke-width="3.4" fill="none">
<line x1="1091" y1="17" x2="1768.4" y2="17"/>
<line x1="1102.8" y1="15.3" x2="1102.8" y2="518.8"/>
<line x1="1766.7" y1="15.3" x2="1766.7" y2="518.8"/>
<line x1="1091" y1="507.3" x2="1768.4" y2="507.3"/>
<line x1="1091" y1="409.2" x2="1102.8" y2="409.2"/>
<line x1="1091" y1="311.2" x2="1102.8" y2="311.2"/>
<line x1="1091" y1="213.1" x2="1102.8" y2="213.1"/>
<line x1="1091" y1="115.1" x2="1102.8" y2="115.1"/>
</g>
<text class="b" x="1085" y="519.8" font-size="37.5" text-anchor="end">0.0</text>
<text class="b" x="1085" y="421.7" font-size="37.5" text-anchor="end">0.2</text>
<text class="b" x="1085" y="323.7" font-size="37.5" text-anchor="end">0.4</text>
<text class="b" x="1085" y="225.6" font-size="37.5" text-anchor="end">0.6</text>
<text class="b" x="1085" y="127.6" font-size="37.5" text-anchor="end">0.8</text>
<text class="b" x="1085" y="29.5" font-size="37.5" text-anchor="end">1.0</text>
<g>
<rect x="1122.3" y="95.6" width="28.4" height="411.7" fill="#121286" stroke="#05052e" stroke-width="1.2"/>
<path d="M1132.5 79.7 H1142.1 M1137.3 79.7 V95.6" stroke="#8e8eb8" stroke-width="1.4" fill="none"/>
<rect x="1157.4" y="485.2" width="28.4" height="22.1" fill="#121286" stroke="#05052e" stroke-width="1.2"/>
<path d="M1167.6 482.3 H1177.2 M1172.4 482.3 V485.2" stroke="#b8b8cc" stroke-width="1.1" fill="none"/>
<rect x="1192.4" y="486.4" width="28.4" height="20.9" fill="#121286" stroke="#05052e" stroke-width="1.2"/>
<path d="M1202.6 483.5 H1212.2 M1207.4 483.5 V486.4" stroke="#b8b8cc" stroke-width="1.1" fill="none"/>
<rect x="1227.5" y="489.0" width="28.4" height="18.3" fill="#121286" stroke="#05052e" stroke-width="1.2"/>
<path d="M1237.7 487.5 H1247.3 M1242.5 487.5 V489.0" stroke="#b8b8cc" stroke-width="1.1" fill="none"/>
<rect x="1262.5" y="484.6" width="28.4" height="22.7" fill="#121286" stroke="#05052e" stroke-width="1.2"/>
<path d="M1272.7 481.3 H1282.3 M1277.5 481.3 V484.6" stroke="#b8b8cc" stroke-width="1.1" fill="none"/>
<rect x="1297.6" y="490.5" width="28.4" height="16.8" fill="#121286" stroke="#05052e" stroke-width="1.2"/>
<path d="M1307.8 489.5 H1317.4 M1312.6 489.5 V490.5" stroke="#b8b8cc" stroke-width="1.1" fill="none"/>
<rect x="1332.7" y="494.0" width="28.4" height="13.3" fill="#121286" stroke="#05052e" stroke-width="1.2"/>
<path d="M1342.9 493.0 H1352.5 M1347.7 493.0 V494.0" stroke="#b8b8cc" stroke-width="1.1" fill="none"/>
<rect x="1367.7" y="491.6" width="28.4" height="15.7" fill="#121286" stroke="#05052e" stroke-width="1.2"/>
<path d="M1377.9 490.0 H1387.5 M1382.7 490.0 V491.6" stroke="#b8b8cc" stroke-width="1.1" fill="none"/>
<rect x="1402.8" y="494.3" width="28.4" height="13.0" fill="#121286" stroke="#05052e" stroke-width="1.2"/>
<path d="M1413.0 492.5 H1422.6 M1417.8 492.5 V494.3" stroke="#b8b8cc" stroke-width="1.1" fill="none"/>
<rect x="1437.8" y="493.7" width="28.4" height="13.6" fill="#121286" stroke="#05052e" stroke-width="1.2"/>
<path d="M1448.0 492.5 H1457.6 M1452.8 492.5 V493.7" stroke="#b8b8cc" stroke-width="1.1" fill="none"/>
<rect x="1472.9" y="485.2" width="28.4" height="22.1" fill="#121286" stroke="#05052e" stroke-width="1.2"/>
<path d="M1483.1 479.3 H1492.7 M1487.9 479.3 V485.2" stroke="#8e8eb8" stroke-width="1.4" fill="none"/>
<rect x="1508.0" y="493.9" width="28.4" height="13.4" fill="#121286" stroke="#05052e" stroke-width="1.2"/>
<path d="M1518.2 493.0 H1527.8 M1523.0 493.0 V493.9" stroke="#b8b8cc" stroke-width="1.1" fill="none"/>
<rect x="1543.0" y="491.0" width="28.4" height="16.3" fill="#121286" stroke="#05052e" stroke-width="1.2"/>
<path d="M1553.2 490.0 H1562.8 M1558.0 490.0 V491.0" stroke="#b8b8cc" stroke-width="1.1" fill="none"/>
<rect x="1578.1" y="490.6" width="28.4" height="16.7" fill="#121286" stroke="#05052e" stroke-width="1.2"/>
<path d="M1588.3 489.5 H1597.9 M1593.1 489.5 V490.6" stroke="#b8b8cc" stroke-width="1.1" fill="none"/>
<rect x="1613.1" y="495.8" width="28.4" height="11.5" fill="#121286" stroke="#05052e" stroke-width="1.2"/>
<path d="M1623.3 494.5 H1632.9 M1628.1 494.5 V495.8" stroke="#b8b8cc" stroke-width="1.1" fill="none"/>
<rect x="1648.2" y="492.3" width="28.4" height="15.0" fill="#121286" stroke="#05052e" stroke-width="1.2"/>
<path d="M1658.4 491.5 H1668.0 M1663.2 491.5 V492.3" stroke="#b8b8cc" stroke-width="1.1" fill="none"/>
<rect x="1683.3" y="493.6" width="28.4" height="13.7" fill="#121286" stroke="#05052e" stroke-width="1.2"/>
<path d="M1693.5 492.0 H1703.1 M1698.3 492.0 V493.6" stroke="#b8b8cc" stroke-width="1.1" fill="none"/>
<rect x="1718.3" y="492.8" width="28.4" height="14.5" fill="#121286" stroke="#05052e" stroke-width="1.2"/>
<path d="M1728.5 491.5 H1738.1 M1733.3 491.5 V492.8" stroke="#b8b8cc" stroke-width="1.1" fill="none"/>
</g>
<g stroke="#000" stroke-width="3">
<line x1="1136.5" y1="507" x2="1136.5" y2="518.5"/>
<line x1="1171.6" y1="507" x2="1171.6" y2="518.5"/>
<line x1="1206.6" y1="507" x2="1206.6" y2="518.5"/>
<line x1="1241.7" y1="507" x2="1241.7" y2="518.5"/>
<line x1="1276.7" y1="507" x2="1276.7" y2="518.5"/>
<line x1="1311.8" y1="507" x2="1311.8" y2="518.5"/>
<line x1="1346.9" y1="507" x2="1346.9" y2="518.5"/>
<line x1="1381.9" y1="507" x2="1381.9" y2="518.5"/>
<line x1="1417.0" y1="507" x2="1417.0" y2="518.5"/>
<line x1="1452.0" y1="507" x2="1452.0" y2="518.5"/>
<line x1="1487.1" y1="507" x2="1487.1" y2="518.5"/>
<line x1="1522.2" y1="507" x2="1522.2" y2="518.5"/>
<line x1="1557.2" y1="507" x2="1557.2" y2="518.5"/>
<line x1="1592.3" y1="507" x2="1592.3" y2="518.5"/>
<line x1="1627.3" y1="507" x2="1627.3" y2="518.5"/>
<line x1="1662.4" y1="507" x2="1662.4" y2="518.5"/>
<line x1="1697.5" y1="507" x2="1697.5" y2="518.5"/>
<line x1="1732.5" y1="507" x2="1732.5" y2="518.5"/>
</g>
<text class="b" font-size="32.5" text-anchor="end" transform="translate(1149.0 543.5) rotate(-47)">AA</text>
<text class="b" font-size="32.5" text-anchor="end" transform="translate(1184.1 543.5) rotate(-47)">Gly</text>
<text class="b" font-size="32.5" text-anchor="end" transform="translate(1219.1 543.5) rotate(-47)">Glu</text>
<text class="b" font-size="32.5" text-anchor="end" transform="translate(1254.2 543.5) rotate(-47)">Arg</text>
<text class="b" font-size="32.5" text-anchor="end" transform="translate(1289.2 543.5) rotate(-47)">Lys</text>
<text class="b" font-size="32.5" text-anchor="end" transform="translate(1324.3 543.5) rotate(-47)">Pro</text>
<text class="b" font-size="32.5" text-anchor="end" transform="translate(1359.4 543.5) rotate(-47)">His</text>
<text class="b" font-size="32.5" text-anchor="end" transform="translate(1394.4 543.5) rotate(-47)">Cys</text>
<text class="b" font-size="32.5" text-anchor="end" transform="translate(1429.5 543.5) rotate(-47)">GSH</text>
<text class="b" font-size="32.5" text-anchor="end" transform="translate(1464.5 543.5) rotate(-47)">GLU</text>
<text class="b" font-size="32.5" text-anchor="end" transform="translate(1499.6 543.5) rotate(-47)">DA</text>
<text class="b" font-size="32.5" text-anchor="end" transform="translate(1534.7 543.5) rotate(-47)">BSA</text>
<text class="b" font-size="32.5" text-anchor="end" transform="translate(1569.7 543.5) rotate(-47)">UA</text>
<text class="b" font-size="32.5" text-anchor="end" y="3.7" transform="translate(1604.8 543.5) rotate(-47)">Ca<tspan font-size="19" dy="-16.7">2+</tspan></text>
<text class="b" font-size="32.5" text-anchor="end" y="3.7" transform="translate(1639.8 543.5) rotate(-47)">Na<tspan font-size="19" dy="-16.7">+</tspan></text>
<text class="b" font-size="32.5" text-anchor="end" y="3.7" transform="translate(1674.9 543.5) rotate(-47)">Zn<tspan font-size="19" dy="-16.7">+</tspan></text>
<text class="b" font-size="32.5" text-anchor="end" y="3.7" transform="translate(1710.0 543.5) rotate(-47)">Cu<tspan font-size="19" dy="-16.7">2+</tspan></text>
<text class="b" font-size="32.5" text-anchor="end" y="3.7" transform="translate(1745.0 543.5) rotate(-47)">Fe<tspan font-size="19" dy="-16.7">3+</tspan></text>
<text class="t" font-size="48" transform="translate(972.6 349) rotate(-90)">F<tspan font-size="33.5" dy="16.5">425</tspan><tspan dy="-16.5">/F</tspan><tspan font-size="33.5" dy="16.5">568</tspan></text>
</svg></body></html>
